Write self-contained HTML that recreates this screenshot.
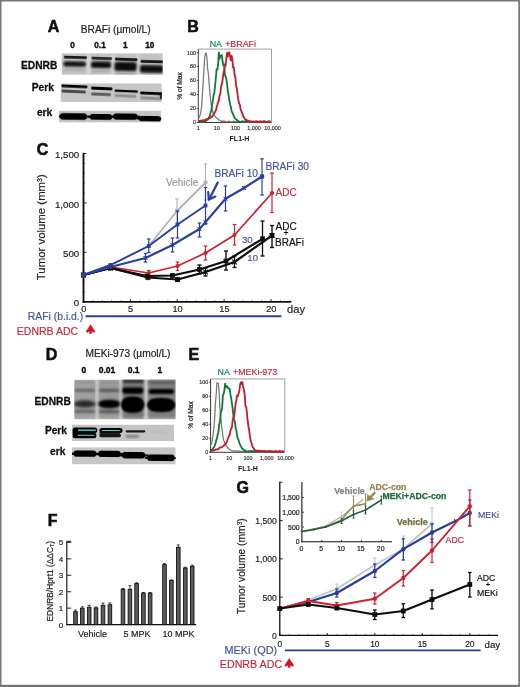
<!DOCTYPE html>
<html><head><meta charset="utf-8"><title>Figure</title>
<style>
html,body{margin:0;padding:0;background:#fff;}
body{width:520px;height:687px;overflow:hidden;font-family:"Liberation Sans", sans-serif;}
svg{display:block;font-family:"Liberation Sans", sans-serif;}
</style></head><body>
<svg width="520" height="687" viewBox="0 0 520 687">
<defs>
<filter id="b1" x="-10%" y="-30%" width="120%" height="160%"><feGaussianBlur stdDeviation="0.9"/></filter>
<filter id="b2" x="-10%" y="-30%" width="120%" height="160%"><feGaussianBlur stdDeviation="1.4"/></filter>
<filter id="b07" x="-10%" y="-40%" width="120%" height="180%"><feGaussianBlur stdDeviation="0.7"/></filter>
<filter id="b05" x="-10%" y="-30%" width="120%" height="160%"><feGaussianBlur stdDeviation="0.5"/></filter>
<filter id="soft" x="-5%" y="-5%" width="110%" height="110%"><feGaussianBlur stdDeviation="0.35"/></filter>
</defs>
<rect x="0" y="0" width="520" height="687" fill="#fff"/>
<g filter="url(#soft)"><rect x="-2" y="-2" width="524" height="3.5" fill="#767676"/><rect x="-2" y="-2" width="3.5" height="691" fill="#767676"/><rect x="518.3" y="-2" width="4" height="691" fill="#767676"/><rect x="-2" y="684.8" width="524" height="5" fill="#767676"/></g>
<g filter="url(#soft)">
<text x="47.80" y="32.40" font-size="16" fill="#0a0a0a" font-weight="bold" text-anchor="start"  stroke="#0a0a0a" stroke-width="0.55" stroke-linejoin="round">A</text>
<text x="80.80" y="33.40" font-size="10.2" fill="#222" font-weight="normal" text-anchor="start"  stroke="#222" stroke-width="0.18" stroke-linejoin="round">BRAFi (µmol/L)</text>
<text x="72.50" y="47.70" font-size="8.2" fill="#111" font-weight="bold" text-anchor="middle"  stroke="#111" stroke-width="0.4" stroke-linejoin="round">0</text>
<text x="100.00" y="47.70" font-size="8.2" fill="#111" font-weight="bold" text-anchor="middle"  stroke="#111" stroke-width="0.4" stroke-linejoin="round">0.1</text>
<text x="125.40" y="47.70" font-size="8.2" fill="#111" font-weight="bold" text-anchor="middle"  stroke="#111" stroke-width="0.4" stroke-linejoin="round">1</text>
<text x="149.70" y="47.70" font-size="8.2" fill="#111" font-weight="bold" text-anchor="middle"  stroke="#111" stroke-width="0.4" stroke-linejoin="round">10</text>
<text x="57.30" y="68.80" font-size="10.2" fill="#111" font-weight="bold" text-anchor="end"  stroke="#111" stroke-width="0.3" stroke-linejoin="round">EDNRB</text>
<text x="53.80" y="91.10" font-size="10.2" fill="#111" font-weight="bold" text-anchor="end"  stroke="#111" stroke-width="0.3" stroke-linejoin="round">Perk</text>
<text x="52.20" y="115.50" font-size="10.2" fill="#111" font-weight="bold" text-anchor="end"  stroke="#111" stroke-width="0.3" stroke-linejoin="round">erk</text>
<clipPath id="cA1"><rect x="61.5" y="53.2" width="101.30000000000001" height="21.599999999999994"/></clipPath>
<g clip-path="url(#cA1)">
<rect x="61.5" y="53.2" width="101.30000000000001" height="21.599999999999994" fill="#c2c2c2"/>
<rect x="86.5" y="51.2" width="4" height="25.599999999999994" fill="#d8d8d8" filter="url(#b2)"/>
<rect x="111.8" y="51.2" width="2.4" height="25.599999999999994" fill="#d8d8d8" filter="url(#b2)"/>
<rect x="137.10000000000002" y="51.2" width="2.4" height="25.599999999999994" fill="#d8d8d8" filter="url(#b2)"/>
<rect x="63.90" y="56.05" width="23.10" height="2.7" rx="1.35" fill="#080808" opacity="0.9" filter="url(#b07)" transform="rotate(1.5 75.45 57.40)"/>
<rect x="63.40" y="61.50" width="22.60" height="5.0" rx="2.5" fill="#080808" opacity="0.98" filter="url(#b1)" transform="rotate(1 74.70 64.00)"/>
<rect x="64.40" y="68.40" width="20.60" height="2.2" rx="1.1" fill="#777" opacity="0.45" filter="url(#b1)" transform="rotate(0 74.70 69.50)"/>
<rect x="91.50" y="56.95" width="20.50" height="2.7" rx="1.35" fill="#080808" opacity="0.85" filter="url(#b07)" transform="rotate(2 101.75 58.30)"/>
<rect x="91.00" y="61.40" width="20.00" height="6.6" rx="2.5" fill="#080808" opacity="0.98" filter="url(#b1)" transform="rotate(1 101.00 64.70)"/>
<rect x="92.00" y="69.90" width="18.00" height="2.2" rx="1.1" fill="#777" opacity="0.45" filter="url(#b1)" transform="rotate(0 101.00 71.00)"/>
<rect x="115.00" y="58.05" width="22.50" height="2.7" rx="1.35" fill="#080808" opacity="0.97" filter="url(#b07)" transform="rotate(2 126.25 59.40)"/>
<rect x="114.50" y="62.10" width="22.00" height="9.0" rx="2.5" fill="#080808" opacity="0.98" filter="url(#b1)" transform="rotate(1 125.50 66.60)"/>
<rect x="115.50" y="73.00" width="20.00" height="2.2" rx="1.1" fill="#777" opacity="0.45" filter="url(#b1)" transform="rotate(0 125.50 74.10)"/>
<rect x="140.50" y="60.25" width="23.00" height="2.7" rx="1.35" fill="#080808" opacity="0.97" filter="url(#b07)" transform="rotate(1.5 152.00 61.60)"/>
<rect x="140.00" y="65.20" width="23.50" height="7.6" rx="2.5" fill="#080808" opacity="0.98" filter="url(#b1)" transform="rotate(1 151.75 69.00)"/>
<rect x="141.00" y="74.70" width="21.50" height="2.2" rx="1.1" fill="#777" opacity="0.45" filter="url(#b1)" transform="rotate(0 151.75 75.80)"/>
</g>
<clipPath id="cA2"><rect x="60.6" y="83.3" width="101.20000000000002" height="18.700000000000003"/></clipPath>
<g clip-path="url(#cA2)">
<rect x="60.6" y="83.3" width="101.20000000000002" height="18.700000000000003" fill="#c6c6c6"/>
<rect x="61.40" y="84.90" width="26.10" height="2.8" rx="1.4" fill="#040404" opacity="1" filter="url(#b07)" transform="rotate(2.5 74.45 86.30)"/>
<rect x="61.40" y="89.90" width="24.60" height="3.0" rx="1.5" fill="#1c1c1c" opacity="0.72" filter="url(#b07)" transform="rotate(2.5 73.70 91.40)"/>
<rect x="91.00" y="87.10" width="21.50" height="2.8" rx="1.4" fill="#040404" opacity="1" filter="url(#b07)" transform="rotate(2.5 101.75 88.50)"/>
<rect x="91.00" y="92.70" width="20.00" height="3.0" rx="1.5" fill="#1c1c1c" opacity="0.62" filter="url(#b07)" transform="rotate(2.5 101.00 94.20)"/>
<rect x="114.50" y="90.05" width="23.50" height="2.3" rx="1.15" fill="#040404" opacity="1" filter="url(#b07)" transform="rotate(2.5 126.25 91.20)"/>
<rect x="114.50" y="94.50" width="22.00" height="3.0" rx="1.5" fill="#1c1c1c" opacity="0.32" filter="url(#b07)" transform="rotate(2.5 125.50 96.00)"/>
<rect x="140.00" y="92.10" width="23.50" height="2.5999999999999996" rx="1.2999999999999998" fill="#040404" opacity="1" filter="url(#b07)" transform="rotate(2.5 151.75 93.40)"/>
<rect x="140.00" y="96.70" width="23.50" height="3.0" rx="1.5" fill="#1c1c1c" opacity="0.32" filter="url(#b07)" transform="rotate(2.5 151.75 98.20)"/>
<rect x="159.80" y="92.30" width="3.20" height="7" rx="2.5" fill="#111" opacity="0.85" filter="url(#b05)" transform="rotate(0 161.40 95.80)"/>
</g>
<clipPath id="cA3"><rect x="58.8" y="110.6" width="102.39999999999999" height="12.0"/></clipPath>
<g clip-path="url(#cA3)">
<rect x="58.8" y="110.6" width="102.39999999999999" height="12.0" fill="#c4c4c4"/>
<rect x="59.80" y="113.30" width="27.20" height="6.4" rx="3" fill="#050505" opacity="1" filter="url(#b05)" transform="rotate(0.8 73.40 116.50)"/>
<rect x="57.80" y="115.40" width="31.70" height="2.2" rx="1.1" fill="#050505" opacity="1" filter="url(#b05)" transform="rotate(0.8 73.65 116.50)"/>
<rect x="89.80" y="114.00" width="22.20" height="5.8" rx="3" fill="#050505" opacity="1" filter="url(#b05)" transform="rotate(0.8 100.90 116.90)"/>
<rect x="87.80" y="115.80" width="26.70" height="2.2" rx="1.1" fill="#050505" opacity="1" filter="url(#b05)" transform="rotate(0.8 101.15 116.90)"/>
<rect x="113.30" y="113.40" width="24.20" height="6.4" rx="3" fill="#050505" opacity="1" filter="url(#b05)" transform="rotate(0.8 125.40 116.60)"/>
<rect x="111.30" y="115.50" width="28.70" height="2.2" rx="1.1" fill="#050505" opacity="1" filter="url(#b05)" transform="rotate(0.8 125.65 116.60)"/>
<rect x="138.80" y="116.10" width="22.10" height="5.2" rx="3" fill="#050505" opacity="1" filter="url(#b05)" transform="rotate(0.8 149.85 118.70)"/>
<rect x="136.80" y="117.60" width="26.60" height="2.2" rx="1.1" fill="#050505" opacity="1" filter="url(#b05)" transform="rotate(0.8 150.10 118.70)"/>
</g>
<text x="187.30" y="32.40" font-size="16" fill="#0a0a0a" font-weight="bold" text-anchor="start"  stroke="#0a0a0a" stroke-width="0.55" stroke-linejoin="round">B</text>
<line x1="198.30" y1="49.10" x2="198.30" y2="122.90" stroke="#222" stroke-width="0.9" />
<line x1="197.90" y1="122.50" x2="271.50" y2="122.50" stroke="#222" stroke-width="0.9" />
<line x1="198.30" y1="49.10" x2="271.50" y2="49.10" stroke="#777" stroke-width="0.7" />
<line x1="271.50" y1="49.10" x2="271.50" y2="122.50" stroke="#777" stroke-width="0.7" />
<line x1="196.70" y1="122.50" x2="198.30" y2="122.50" stroke="#222" stroke-width="0.7" />
<text x="195.90" y="124.40" font-size="5.4" fill="#333" font-weight="normal" text-anchor="end"  stroke="#333" stroke-width="0.18" stroke-linejoin="round">0</text>
<line x1="196.70" y1="108.52" x2="198.30" y2="108.52" stroke="#222" stroke-width="0.7" />
<text x="195.90" y="110.42" font-size="5.4" fill="#333" font-weight="normal" text-anchor="end"  stroke="#333" stroke-width="0.18" stroke-linejoin="round">20</text>
<line x1="196.70" y1="94.54" x2="198.30" y2="94.54" stroke="#222" stroke-width="0.7" />
<text x="195.90" y="96.44" font-size="5.4" fill="#333" font-weight="normal" text-anchor="end"  stroke="#333" stroke-width="0.18" stroke-linejoin="round">40</text>
<line x1="196.70" y1="80.56" x2="198.30" y2="80.56" stroke="#222" stroke-width="0.7" />
<text x="195.90" y="82.46" font-size="5.4" fill="#333" font-weight="normal" text-anchor="end"  stroke="#333" stroke-width="0.18" stroke-linejoin="round">60</text>
<line x1="196.70" y1="66.58" x2="198.30" y2="66.58" stroke="#222" stroke-width="0.7" />
<text x="195.90" y="68.48" font-size="5.4" fill="#333" font-weight="normal" text-anchor="end"  stroke="#333" stroke-width="0.18" stroke-linejoin="round">80</text>
<line x1="196.70" y1="52.60" x2="198.30" y2="52.60" stroke="#222" stroke-width="0.7" />
<text x="195.90" y="54.50" font-size="5.4" fill="#333" font-weight="normal" text-anchor="end"  stroke="#333" stroke-width="0.18" stroke-linejoin="round">100</text>
<text x="198.30" y="129.70" font-size="5.4" fill="#333" font-weight="normal" text-anchor="middle"  stroke="#333" stroke-width="0.18" stroke-linejoin="round">1</text>
<text x="216.85" y="129.70" font-size="5.4" fill="#333" font-weight="normal" text-anchor="middle"  stroke="#333" stroke-width="0.18" stroke-linejoin="round">10</text>
<text x="235.40" y="129.70" font-size="5.4" fill="#333" font-weight="normal" text-anchor="middle"  stroke="#333" stroke-width="0.18" stroke-linejoin="round">100</text>
<text x="253.95" y="129.70" font-size="5.4" fill="#333" font-weight="normal" text-anchor="middle"  stroke="#333" stroke-width="0.18" stroke-linejoin="round">1,000</text>
<text x="272.50" y="129.70" font-size="5.4" fill="#333" font-weight="normal" text-anchor="middle"  stroke="#333" stroke-width="0.18" stroke-linejoin="round">10,000</text>
<polyline points="198.60,118.37 199.35,116.88 200.10,114.98 200.85,111.87 201.60,106.58 202.35,95.19 203.10,83.46 203.85,71.29 204.60,58.78 205.35,53.62 206.10,53.07 206.85,56.50 207.60,68.90 208.35,73.25 209.10,83.58 209.85,92.17 210.60,100.37 211.35,105.17 212.10,108.68 212.85,112.59 213.60,113.17 214.35,115.23 215.10,116.48 215.85,117.41 216.60,117.83 217.35,118.49 218.10,118.99 218.85,120.27 219.60,119.97 220.35,120.64 221.10,121.24 221.85,121.13 222.60,121.65 223.35,120.87 224.10,121.12 224.85,121.68 225.60,121.20 226.35,121.80 227.10,121.84 227.85,121.62 228.60,121.10 229.35,121.12 230.10,121.92 230.85,121.96 231.60,121.68 232.35,121.89 233.10,121.32 233.85,121.25 234.60,121.74 235.35,121.64 236.10,121.58 236.85,121.57 237.60,121.67 238.35,121.51 239.10,121.87 239.85,121.68 240.60,122.12 241.35,121.65 242.10,121.63 242.85,122.09 243.60,121.76 244.35,121.86 245.10,121.54 245.85,122.11 246.60,121.36 247.35,121.79 248.10,121.90 248.85,121.91 249.60,121.68 250.35,121.86 251.10,122.15 251.85,121.56 252.60,122.00 253.35,121.98 254.10,121.82 254.85,122.10 255.60,121.91 256.35,121.82 257.10,122.05 257.85,121.64 258.60,121.81 259.35,122.09 260.10,122.03 260.85,121.49 261.60,121.96 262.35,121.66 263.10,121.90 263.85,121.95 264.60,121.97 265.35,121.85 266.10,121.85 266.85,122.07 267.60,121.41 268.35,121.37 269.10,121.40 269.85,122.01 270.60,121.50" fill="none" stroke="#7c7c7c" stroke-width="1.3" stroke-linejoin="round" />
<polyline points="198.60,121.76 199.35,121.91 200.10,122.13 200.85,121.94 201.60,122.13 202.35,121.55 203.10,121.33 203.85,121.51 204.60,121.28 205.35,121.44 206.10,120.88 206.85,120.09 207.60,119.82 208.35,118.53 209.10,117.08 209.85,115.81 210.60,112.62 211.35,110.18 212.10,104.61 212.85,100.70 213.60,95.22 214.35,92.64 215.10,85.26 215.85,78.00 216.60,69.32 217.35,69.69 218.10,64.47 218.85,52.30 219.60,58.81 220.35,55.79 221.10,55.72 221.85,55.07 222.60,61.73 223.35,65.45 224.10,64.19 224.85,74.36 225.60,76.49 226.35,79.04 227.10,84.09 227.85,91.35 228.60,95.45 229.35,100.05 230.10,104.15 230.85,107.01 231.60,111.07 232.35,112.50 233.10,114.40 233.85,115.88 234.60,117.98 235.35,118.76 236.10,119.27 236.85,120.05 237.60,120.62 238.35,121.02 239.10,121.62 239.85,121.81 240.60,121.85 241.35,121.77 242.10,121.27 242.85,121.28 243.60,121.29 244.35,121.51 245.10,121.99 245.85,121.60 246.60,121.96 247.35,121.28 248.10,121.81 248.85,121.39 249.60,121.95 250.35,121.59 251.10,121.78 251.85,121.79 252.60,121.78 253.35,121.72 254.10,121.79 254.85,122.00 255.60,121.51 256.35,121.72 257.10,121.62 257.85,122.03 258.60,121.54 259.35,121.73 260.10,121.56 260.85,121.95 261.60,121.68 262.35,121.98 263.10,121.38 263.85,121.59 264.60,121.46 265.35,121.96 266.10,122.16 266.85,121.86 267.60,121.88 268.35,121.54 269.10,121.36 269.85,121.69 270.60,121.49" fill="none" stroke="#0f7a3a" stroke-width="1.8" stroke-linejoin="round" />
<polyline points="198.60,121.05 199.35,120.86 200.10,120.97 200.85,120.40 201.60,120.93 202.35,120.43 203.10,119.98 203.85,120.36 204.60,120.33 205.35,119.76 206.10,119.15 206.85,119.14 207.60,119.21 208.35,118.98 209.10,118.32 209.85,118.20 210.60,117.25 211.35,117.39 212.10,116.24 212.85,115.57 213.60,113.90 214.35,113.41 215.10,111.95 215.85,110.44 216.60,107.47 217.35,104.67 218.10,101.97 218.85,100.51 219.60,95.64 220.35,93.63 221.10,86.09 221.85,84.48 222.60,80.08 223.35,73.65 224.10,70.74 224.85,65.43 225.60,65.69 226.35,58.45 227.10,52.81 227.85,56.65 228.60,52.81 229.35,52.30 230.10,56.62 230.85,60.29 231.60,55.78 232.35,59.45 233.10,67.72 233.85,67.17 234.60,74.76 235.35,77.76 236.10,85.45 236.85,88.73 237.60,94.13 238.35,99.71 239.10,103.55 239.85,104.53 240.60,109.45 241.35,111.11 242.10,112.77 242.85,115.46 243.60,117.12 244.35,117.92 245.10,119.30 245.85,120.01 246.60,119.88 247.35,120.73 248.10,120.95 248.85,120.84 249.60,121.58 250.35,121.45 251.10,121.29 251.85,121.30 252.60,121.53 253.35,121.58 254.10,121.55 254.85,121.60 255.60,121.64 256.35,121.23 257.10,121.92 257.85,121.53 258.60,121.78 259.35,122.02 260.10,121.31 260.85,121.37 261.60,121.99 262.35,121.61 263.10,121.52 263.85,121.84 264.60,121.35 265.35,121.77 266.10,121.73 266.85,122.12 267.60,121.99 268.35,121.74 269.10,121.71 269.85,121.62 270.60,121.78" fill="none" stroke="#c41c2a" stroke-width="1.8" stroke-linejoin="round" />
<text x="209.70" y="47.00" font-size="8.9" fill="#16874a" font-weight="normal" text-anchor="start"  stroke="#16874a" stroke-width="0.18" stroke-linejoin="round">NA</text>
<text x="225.20" y="47.00" font-size="8.9" fill="#c8283c" font-weight="normal" text-anchor="start"  stroke="#c8283c" stroke-width="0.18" stroke-linejoin="round">+BRAFi</text>
<text transform="translate(181.60,86.00) rotate(-90)" font-size="6.6" fill="#222" stroke="#222" stroke-width="0.18" font-weight="normal" text-anchor="middle">% of Max</text>
<text x="239.50" y="141.00" font-size="7" fill="#222" font-weight="bold" text-anchor="middle" >FL1-H</text>
</g>
<g filter="url(#soft)">
<text x="36.80" y="154.70" font-size="16" fill="#0a0a0a" font-weight="bold" text-anchor="start"  stroke="#0a0a0a" stroke-width="0.55" stroke-linejoin="round">C</text>
<line x1="83.50" y1="152.80" x2="83.50" y2="302.60" stroke="#111" stroke-width="1.8" />
<line x1="82.60" y1="301.80" x2="291.30" y2="301.80" stroke="#111" stroke-width="1.8" />
<line x1="83.50" y1="301.70" x2="86.50" y2="301.70" stroke="#111" stroke-width="0.9" />
<line x1="83.50" y1="291.82" x2="84.90" y2="291.82" stroke="#111" stroke-width="0.7" />
<line x1="83.50" y1="281.94" x2="84.90" y2="281.94" stroke="#111" stroke-width="0.7" />
<line x1="83.50" y1="272.06" x2="84.90" y2="272.06" stroke="#111" stroke-width="0.7" />
<line x1="83.50" y1="262.18" x2="84.90" y2="262.18" stroke="#111" stroke-width="0.7" />
<line x1="83.50" y1="252.30" x2="86.50" y2="252.30" stroke="#111" stroke-width="0.9" />
<line x1="83.50" y1="242.42" x2="84.90" y2="242.42" stroke="#111" stroke-width="0.7" />
<line x1="83.50" y1="232.54" x2="84.90" y2="232.54" stroke="#111" stroke-width="0.7" />
<line x1="83.50" y1="222.66" x2="84.90" y2="222.66" stroke="#111" stroke-width="0.7" />
<line x1="83.50" y1="212.78" x2="84.90" y2="212.78" stroke="#111" stroke-width="0.7" />
<line x1="83.50" y1="202.90" x2="86.50" y2="202.90" stroke="#111" stroke-width="0.9" />
<line x1="83.50" y1="193.02" x2="84.90" y2="193.02" stroke="#111" stroke-width="0.7" />
<line x1="83.50" y1="183.14" x2="84.90" y2="183.14" stroke="#111" stroke-width="0.7" />
<line x1="83.50" y1="173.26" x2="84.90" y2="173.26" stroke="#111" stroke-width="0.7" />
<line x1="83.50" y1="163.38" x2="84.90" y2="163.38" stroke="#111" stroke-width="0.7" />
<line x1="83.50" y1="153.50" x2="86.50" y2="153.50" stroke="#111" stroke-width="0.9" />
<line x1="83.50" y1="301.70" x2="83.50" y2="299.10" stroke="#111" stroke-width="0.9" />
<line x1="92.88" y1="301.70" x2="92.88" y2="300.40" stroke="#111" stroke-width="0.7" />
<line x1="102.25" y1="301.70" x2="102.25" y2="300.40" stroke="#111" stroke-width="0.7" />
<line x1="111.62" y1="301.70" x2="111.62" y2="300.40" stroke="#111" stroke-width="0.7" />
<line x1="121.00" y1="301.70" x2="121.00" y2="300.40" stroke="#111" stroke-width="0.7" />
<line x1="130.38" y1="301.70" x2="130.38" y2="299.10" stroke="#111" stroke-width="0.9" />
<line x1="139.75" y1="301.70" x2="139.75" y2="300.40" stroke="#111" stroke-width="0.7" />
<line x1="149.12" y1="301.70" x2="149.12" y2="300.40" stroke="#111" stroke-width="0.7" />
<line x1="158.50" y1="301.70" x2="158.50" y2="300.40" stroke="#111" stroke-width="0.7" />
<line x1="167.88" y1="301.70" x2="167.88" y2="300.40" stroke="#111" stroke-width="0.7" />
<line x1="177.25" y1="301.70" x2="177.25" y2="299.10" stroke="#111" stroke-width="0.9" />
<line x1="186.62" y1="301.70" x2="186.62" y2="300.40" stroke="#111" stroke-width="0.7" />
<line x1="196.00" y1="301.70" x2="196.00" y2="300.40" stroke="#111" stroke-width="0.7" />
<line x1="205.38" y1="301.70" x2="205.38" y2="300.40" stroke="#111" stroke-width="0.7" />
<line x1="214.75" y1="301.70" x2="214.75" y2="300.40" stroke="#111" stroke-width="0.7" />
<line x1="224.12" y1="301.70" x2="224.12" y2="299.10" stroke="#111" stroke-width="0.9" />
<line x1="233.50" y1="301.70" x2="233.50" y2="300.40" stroke="#111" stroke-width="0.7" />
<line x1="242.88" y1="301.70" x2="242.88" y2="300.40" stroke="#111" stroke-width="0.7" />
<line x1="252.25" y1="301.70" x2="252.25" y2="300.40" stroke="#111" stroke-width="0.7" />
<line x1="261.62" y1="301.70" x2="261.62" y2="300.40" stroke="#111" stroke-width="0.7" />
<line x1="271.00" y1="301.70" x2="271.00" y2="299.10" stroke="#111" stroke-width="0.9" />
<line x1="280.38" y1="301.70" x2="280.38" y2="300.40" stroke="#111" stroke-width="0.7" />
<line x1="289.75" y1="301.70" x2="289.75" y2="300.40" stroke="#111" stroke-width="0.7" />
<text x="79.20" y="158.10" font-size="9.7" fill="#222" font-weight="normal" text-anchor="end"  stroke="#222" stroke-width="0.18" stroke-linejoin="round">1,500</text>
<text x="79.20" y="207.50" font-size="9.7" fill="#222" font-weight="normal" text-anchor="end"  stroke="#222" stroke-width="0.18" stroke-linejoin="round">1,000</text>
<text x="79.20" y="256.90" font-size="9.7" fill="#222" font-weight="normal" text-anchor="end"  stroke="#222" stroke-width="0.18" stroke-linejoin="round">500</text>
<text x="79.20" y="306.10" font-size="9.7" fill="#222" font-weight="normal" text-anchor="end"  stroke="#222" stroke-width="0.18" stroke-linejoin="round">0</text>
<text x="83.80" y="312.20" font-size="9.2" fill="#222" font-weight="normal" text-anchor="middle"  stroke="#222" stroke-width="0.18" stroke-linejoin="round">0</text>
<text x="130.68" y="312.20" font-size="9.2" fill="#222" font-weight="normal" text-anchor="middle"  stroke="#222" stroke-width="0.18" stroke-linejoin="round">5</text>
<text x="177.55" y="312.20" font-size="9.2" fill="#222" font-weight="normal" text-anchor="middle"  stroke="#222" stroke-width="0.18" stroke-linejoin="round">10</text>
<text x="224.43" y="312.20" font-size="9.2" fill="#222" font-weight="normal" text-anchor="middle"  stroke="#222" stroke-width="0.18" stroke-linejoin="round">15</text>
<text x="271.30" y="312.20" font-size="9.2" fill="#222" font-weight="normal" text-anchor="middle"  stroke="#222" stroke-width="0.18" stroke-linejoin="round">20</text>
<text x="287.00" y="313.20" font-size="11.2" fill="#222" font-weight="normal" text-anchor="start"  stroke="#222" stroke-width="0.18" stroke-linejoin="round">day</text>
<text transform="translate(45.30,227.20) rotate(-90)" font-size="11.4" fill="#222" stroke="#222" stroke-width="0.18" font-weight="normal" text-anchor="middle">Tumor volume (mm<tspan font-size="7" dy="-3.6">3</tspan><tspan dy="3.6">)</tspan></text>
<line x1="177.00" y1="199.00" x2="177.00" y2="223.00" stroke="#b2b2b2" stroke-width="1.1" />
<line x1="175.20" y1="199.00" x2="178.80" y2="199.00" stroke="#b2b2b2" stroke-width="1.1" />
<line x1="175.20" y1="223.00" x2="178.80" y2="223.00" stroke="#b2b2b2" stroke-width="1.1" />
<line x1="205.50" y1="164.00" x2="205.50" y2="200.00" stroke="#b2b2b2" stroke-width="1.1" />
<line x1="203.70" y1="164.00" x2="207.30" y2="164.00" stroke="#b2b2b2" stroke-width="1.1" />
<line x1="203.70" y1="200.00" x2="207.30" y2="200.00" stroke="#b2b2b2" stroke-width="1.1" />
<polyline points="83.50,275.00 110.50,265.50 148.75,246.00 177.00,211.00 205.50,182.50" fill="none" stroke="#b2b2b2" stroke-width="1.8" stroke-linejoin="round" />
<rect x="81.60" y="273.10" width="3.8" height="3.8" fill="#b2b2b2"/>
<rect x="108.60" y="263.60" width="3.8" height="3.8" fill="#b2b2b2"/>
<rect x="146.85" y="244.10" width="3.8" height="3.8" fill="#b2b2b2"/>
<rect x="175.10" y="209.10" width="3.8" height="3.8" fill="#b2b2b2"/>
<rect x="203.60" y="180.60" width="3.8" height="3.8" fill="#b2b2b2"/>
<line x1="148.75" y1="270.50" x2="148.75" y2="276.00" stroke="#d0202e" stroke-width="1.2" />
<line x1="146.95" y1="270.50" x2="150.55" y2="270.50" stroke="#d0202e" stroke-width="1.2" />
<line x1="146.95" y1="276.00" x2="150.55" y2="276.00" stroke="#d0202e" stroke-width="1.2" />
<line x1="177.50" y1="262.00" x2="177.50" y2="270.50" stroke="#d0202e" stroke-width="1.2" />
<line x1="175.70" y1="262.00" x2="179.30" y2="262.00" stroke="#d0202e" stroke-width="1.2" />
<line x1="175.70" y1="270.50" x2="179.30" y2="270.50" stroke="#d0202e" stroke-width="1.2" />
<line x1="205.50" y1="246.00" x2="205.50" y2="260.00" stroke="#d0202e" stroke-width="1.2" />
<line x1="203.70" y1="246.00" x2="207.30" y2="246.00" stroke="#d0202e" stroke-width="1.2" />
<line x1="203.70" y1="260.00" x2="207.30" y2="260.00" stroke="#d0202e" stroke-width="1.2" />
<line x1="234.50" y1="224.50" x2="234.50" y2="245.00" stroke="#d0202e" stroke-width="1.2" />
<line x1="232.70" y1="224.50" x2="236.30" y2="224.50" stroke="#d0202e" stroke-width="1.2" />
<line x1="232.70" y1="245.00" x2="236.30" y2="245.00" stroke="#d0202e" stroke-width="1.2" />
<line x1="272.00" y1="173.00" x2="272.00" y2="212.50" stroke="#d0202e" stroke-width="1.2" />
<line x1="270.20" y1="173.00" x2="273.80" y2="173.00" stroke="#d0202e" stroke-width="1.2" />
<line x1="270.20" y1="212.50" x2="273.80" y2="212.50" stroke="#d0202e" stroke-width="1.2" />
<polyline points="83.50,275.00 110.50,267.00 148.75,273.00 177.50,266.00 205.50,253.00 234.50,235.00 272.00,193.00" fill="none" stroke="#d0202e" stroke-width="1.7" stroke-linejoin="round" />
<circle cx="83.50" cy="275.00" r="2.1" fill="#d0202e"/>
<circle cx="110.50" cy="267.00" r="2.1" fill="#d0202e"/>
<circle cx="148.75" cy="273.00" r="2.1" fill="#d0202e"/>
<circle cx="177.50" cy="266.00" r="2.1" fill="#d0202e"/>
<circle cx="205.50" cy="253.00" r="2.1" fill="#d0202e"/>
<circle cx="234.50" cy="235.00" r="2.1" fill="#d0202e"/>
<circle cx="272.00" cy="193.00" r="2.1" fill="#d0202e"/>
<line x1="199.50" y1="265.00" x2="199.50" y2="274.00" stroke="#0a0a0a" stroke-width="1.3" />
<line x1="197.50" y1="265.00" x2="201.50" y2="265.00" stroke="#0a0a0a" stroke-width="1.3" />
<line x1="197.50" y1="274.00" x2="201.50" y2="274.00" stroke="#0a0a0a" stroke-width="1.3" />
<line x1="226.00" y1="251.00" x2="226.00" y2="270.00" stroke="#0a0a0a" stroke-width="1.3" />
<line x1="224.00" y1="251.00" x2="228.00" y2="251.00" stroke="#0a0a0a" stroke-width="1.3" />
<line x1="224.00" y1="270.00" x2="228.00" y2="270.00" stroke="#0a0a0a" stroke-width="1.3" />
<line x1="262.50" y1="221.00" x2="262.50" y2="256.00" stroke="#0a0a0a" stroke-width="1.3" />
<line x1="260.50" y1="221.00" x2="264.50" y2="221.00" stroke="#0a0a0a" stroke-width="1.3" />
<line x1="260.50" y1="256.00" x2="264.50" y2="256.00" stroke="#0a0a0a" stroke-width="1.3" />
<polyline points="83.50,275.00 110.50,268.00 147.00,276.00 172.50,275.50 199.50,269.50 226.00,261.00 262.50,238.80" fill="none" stroke="#0a0a0a" stroke-width="2.15" stroke-linejoin="round" />
<rect x="81.10" y="272.60" width="4.8" height="4.8" fill="#0a0a0a"/>
<rect x="108.10" y="265.60" width="4.8" height="4.8" fill="#0a0a0a"/>
<rect x="144.60" y="273.60" width="4.8" height="4.8" fill="#0a0a0a"/>
<rect x="170.10" y="273.10" width="4.8" height="4.8" fill="#0a0a0a"/>
<rect x="197.10" y="267.10" width="4.8" height="4.8" fill="#0a0a0a"/>
<rect x="223.60" y="258.60" width="4.8" height="4.8" fill="#0a0a0a"/>
<rect x="260.10" y="236.40" width="4.8" height="4.8" fill="#0a0a0a"/>
<line x1="205.50" y1="268.00" x2="205.50" y2="276.00" stroke="#0a0a0a" stroke-width="1.3" />
<line x1="203.50" y1="268.00" x2="207.50" y2="268.00" stroke="#0a0a0a" stroke-width="1.3" />
<line x1="203.50" y1="276.00" x2="207.50" y2="276.00" stroke="#0a0a0a" stroke-width="1.3" />
<line x1="234.50" y1="256.00" x2="234.50" y2="267.50" stroke="#0a0a0a" stroke-width="1.3" />
<line x1="232.50" y1="256.00" x2="236.50" y2="256.00" stroke="#0a0a0a" stroke-width="1.3" />
<line x1="232.50" y1="267.50" x2="236.50" y2="267.50" stroke="#0a0a0a" stroke-width="1.3" />
<line x1="272.00" y1="225.50" x2="272.00" y2="247.50" stroke="#0a0a0a" stroke-width="1.3" />
<line x1="270.00" y1="225.50" x2="274.00" y2="225.50" stroke="#0a0a0a" stroke-width="1.3" />
<line x1="270.00" y1="247.50" x2="274.00" y2="247.50" stroke="#0a0a0a" stroke-width="1.3" />
<polyline points="83.50,275.00 110.50,268.00 148.00,277.50 177.50,279.50 205.50,272.00 234.50,262.00 272.00,235.50" fill="none" stroke="#0a0a0a" stroke-width="2.15" stroke-linejoin="round" />
<line x1="81.20" y1="272.70" x2="85.80" y2="277.30" stroke="#0a0a0a" stroke-width="1.1" />
<line x1="81.20" y1="277.30" x2="85.80" y2="272.70" stroke="#0a0a0a" stroke-width="1.1" />
<line x1="83.50" y1="272.30" x2="83.50" y2="277.70" stroke="#0a0a0a" stroke-width="1.0" />
<line x1="108.20" y1="265.70" x2="112.80" y2="270.30" stroke="#0a0a0a" stroke-width="1.1" />
<line x1="108.20" y1="270.30" x2="112.80" y2="265.70" stroke="#0a0a0a" stroke-width="1.1" />
<line x1="110.50" y1="265.30" x2="110.50" y2="270.70" stroke="#0a0a0a" stroke-width="1.0" />
<line x1="145.70" y1="275.20" x2="150.30" y2="279.80" stroke="#0a0a0a" stroke-width="1.1" />
<line x1="145.70" y1="279.80" x2="150.30" y2="275.20" stroke="#0a0a0a" stroke-width="1.1" />
<line x1="148.00" y1="274.80" x2="148.00" y2="280.20" stroke="#0a0a0a" stroke-width="1.0" />
<line x1="175.20" y1="277.20" x2="179.80" y2="281.80" stroke="#0a0a0a" stroke-width="1.1" />
<line x1="175.20" y1="281.80" x2="179.80" y2="277.20" stroke="#0a0a0a" stroke-width="1.1" />
<line x1="177.50" y1="276.80" x2="177.50" y2="282.20" stroke="#0a0a0a" stroke-width="1.0" />
<line x1="203.20" y1="269.70" x2="207.80" y2="274.30" stroke="#0a0a0a" stroke-width="1.1" />
<line x1="203.20" y1="274.30" x2="207.80" y2="269.70" stroke="#0a0a0a" stroke-width="1.1" />
<line x1="205.50" y1="269.30" x2="205.50" y2="274.70" stroke="#0a0a0a" stroke-width="1.0" />
<line x1="232.20" y1="259.70" x2="236.80" y2="264.30" stroke="#0a0a0a" stroke-width="1.1" />
<line x1="232.20" y1="264.30" x2="236.80" y2="259.70" stroke="#0a0a0a" stroke-width="1.1" />
<line x1="234.50" y1="259.30" x2="234.50" y2="264.70" stroke="#0a0a0a" stroke-width="1.0" />
<line x1="269.70" y1="233.20" x2="274.30" y2="237.80" stroke="#0a0a0a" stroke-width="1.1" />
<line x1="269.70" y1="237.80" x2="274.30" y2="233.20" stroke="#0a0a0a" stroke-width="1.1" />
<line x1="272.00" y1="232.80" x2="272.00" y2="238.20" stroke="#0a0a0a" stroke-width="1.0" />
<rect x="269.60" y="233.10" width="4.8" height="4.8" fill="#0a0a0a"/>
<circle cx="177.50" cy="279.50" r="2.6" fill="#0a0a0a"/>
<circle cx="148.00" cy="277.50" r="2.4" fill="#0a0a0a"/>
<line x1="148.75" y1="239.00" x2="148.75" y2="252.50" stroke="#2c40a0" stroke-width="1.2" />
<line x1="146.95" y1="239.00" x2="150.55" y2="239.00" stroke="#2c40a0" stroke-width="1.2" />
<line x1="146.95" y1="252.50" x2="150.55" y2="252.50" stroke="#2c40a0" stroke-width="1.2" />
<line x1="177.50" y1="211.00" x2="177.50" y2="238.00" stroke="#2c40a0" stroke-width="1.2" />
<line x1="175.70" y1="211.00" x2="179.30" y2="211.00" stroke="#2c40a0" stroke-width="1.2" />
<line x1="175.70" y1="238.00" x2="179.30" y2="238.00" stroke="#2c40a0" stroke-width="1.2" />
<line x1="205.50" y1="187.50" x2="205.50" y2="224.00" stroke="#2c40a0" stroke-width="1.2" />
<line x1="203.70" y1="187.50" x2="207.30" y2="187.50" stroke="#2c40a0" stroke-width="1.2" />
<line x1="203.70" y1="224.00" x2="207.30" y2="224.00" stroke="#2c40a0" stroke-width="1.2" />
<polyline points="83.50,275.00 110.50,265.00 148.75,246.00 177.50,224.50 205.50,205.50" fill="none" stroke="#2c40a0" stroke-width="1.9" stroke-linejoin="round" />
<rect x="81.60" y="273.10" width="3.8" height="3.8" fill="#2c40a0"/>
<rect x="108.60" y="263.10" width="3.8" height="3.8" fill="#2c40a0"/>
<rect x="146.85" y="244.10" width="3.8" height="3.8" fill="#2c40a0"/>
<rect x="175.60" y="222.60" width="3.8" height="3.8" fill="#2c40a0"/>
<rect x="203.60" y="203.60" width="3.8" height="3.8" fill="#2c40a0"/>
<line x1="145.50" y1="253.50" x2="145.50" y2="262.00" stroke="#2c40a0" stroke-width="1.2" />
<line x1="143.70" y1="253.50" x2="147.30" y2="253.50" stroke="#2c40a0" stroke-width="1.2" />
<line x1="143.70" y1="262.00" x2="147.30" y2="262.00" stroke="#2c40a0" stroke-width="1.2" />
<line x1="172.50" y1="238.00" x2="172.50" y2="252.00" stroke="#2c40a0" stroke-width="1.2" />
<line x1="170.70" y1="238.00" x2="174.30" y2="238.00" stroke="#2c40a0" stroke-width="1.2" />
<line x1="170.70" y1="252.00" x2="174.30" y2="252.00" stroke="#2c40a0" stroke-width="1.2" />
<line x1="199.50" y1="223.00" x2="199.50" y2="237.00" stroke="#2c40a0" stroke-width="1.2" />
<line x1="197.70" y1="223.00" x2="201.30" y2="223.00" stroke="#2c40a0" stroke-width="1.2" />
<line x1="197.70" y1="237.00" x2="201.30" y2="237.00" stroke="#2c40a0" stroke-width="1.2" />
<line x1="225.50" y1="186.00" x2="225.50" y2="211.00" stroke="#2c40a0" stroke-width="1.2" />
<line x1="223.70" y1="186.00" x2="227.30" y2="186.00" stroke="#2c40a0" stroke-width="1.2" />
<line x1="223.70" y1="211.00" x2="227.30" y2="211.00" stroke="#2c40a0" stroke-width="1.2" />
<line x1="262.00" y1="158.80" x2="262.00" y2="195.00" stroke="#2c40a0" stroke-width="1.2" />
<line x1="260.20" y1="158.80" x2="263.80" y2="158.80" stroke="#2c40a0" stroke-width="1.2" />
<line x1="260.20" y1="195.00" x2="263.80" y2="195.00" stroke="#2c40a0" stroke-width="1.2" />
<polyline points="83.50,275.00 110.50,267.00 145.50,258.00 172.50,245.00 199.50,229.00 205.40,222.30 225.50,198.80 244.00,188.00 262.00,176.50" fill="none" stroke="#2c40a0" stroke-width="2.15" stroke-linejoin="round" />
<line x1="81.60" y1="273.10" x2="85.40" y2="276.90" stroke="#2c40a0" stroke-width="1.1" />
<line x1="81.60" y1="276.90" x2="85.40" y2="273.10" stroke="#2c40a0" stroke-width="1.1" />
<line x1="83.50" y1="272.70" x2="83.50" y2="277.30" stroke="#2c40a0" stroke-width="1.0" />
<line x1="108.60" y1="265.10" x2="112.40" y2="268.90" stroke="#2c40a0" stroke-width="1.1" />
<line x1="108.60" y1="268.90" x2="112.40" y2="265.10" stroke="#2c40a0" stroke-width="1.1" />
<line x1="110.50" y1="264.70" x2="110.50" y2="269.30" stroke="#2c40a0" stroke-width="1.0" />
<line x1="143.60" y1="256.10" x2="147.40" y2="259.90" stroke="#2c40a0" stroke-width="1.1" />
<line x1="143.60" y1="259.90" x2="147.40" y2="256.10" stroke="#2c40a0" stroke-width="1.1" />
<line x1="145.50" y1="255.70" x2="145.50" y2="260.30" stroke="#2c40a0" stroke-width="1.0" />
<line x1="170.60" y1="243.10" x2="174.40" y2="246.90" stroke="#2c40a0" stroke-width="1.1" />
<line x1="170.60" y1="246.90" x2="174.40" y2="243.10" stroke="#2c40a0" stroke-width="1.1" />
<line x1="172.50" y1="242.70" x2="172.50" y2="247.30" stroke="#2c40a0" stroke-width="1.0" />
<line x1="197.60" y1="227.10" x2="201.40" y2="230.90" stroke="#2c40a0" stroke-width="1.1" />
<line x1="197.60" y1="230.90" x2="201.40" y2="227.10" stroke="#2c40a0" stroke-width="1.1" />
<line x1="199.50" y1="226.70" x2="199.50" y2="231.30" stroke="#2c40a0" stroke-width="1.0" />
<line x1="203.50" y1="220.40" x2="207.30" y2="224.20" stroke="#2c40a0" stroke-width="1.1" />
<line x1="203.50" y1="224.20" x2="207.30" y2="220.40" stroke="#2c40a0" stroke-width="1.1" />
<line x1="205.40" y1="220.00" x2="205.40" y2="224.60" stroke="#2c40a0" stroke-width="1.0" />
<line x1="223.60" y1="196.90" x2="227.40" y2="200.70" stroke="#2c40a0" stroke-width="1.1" />
<line x1="223.60" y1="200.70" x2="227.40" y2="196.90" stroke="#2c40a0" stroke-width="1.1" />
<line x1="225.50" y1="196.50" x2="225.50" y2="201.10" stroke="#2c40a0" stroke-width="1.0" />
<line x1="242.10" y1="186.10" x2="245.90" y2="189.90" stroke="#2c40a0" stroke-width="1.1" />
<line x1="242.10" y1="189.90" x2="245.90" y2="186.10" stroke="#2c40a0" stroke-width="1.1" />
<line x1="244.00" y1="185.70" x2="244.00" y2="190.30" stroke="#2c40a0" stroke-width="1.0" />
<line x1="260.10" y1="174.60" x2="263.90" y2="178.40" stroke="#2c40a0" stroke-width="1.1" />
<line x1="260.10" y1="178.40" x2="263.90" y2="174.60" stroke="#2c40a0" stroke-width="1.1" />
<line x1="262.00" y1="174.20" x2="262.00" y2="178.80" stroke="#2c40a0" stroke-width="1.0" />
<circle cx="83.50" cy="275.00" r="2.0" fill="#2c40a0"/>
<circle cx="110.50" cy="266.00" r="2.3" fill="#2c40a0"/>
<text x="166.00" y="185.60" font-size="10" fill="#9a9a9a" font-weight="normal" text-anchor="start"  stroke="#9a9a9a" stroke-width="0.18" stroke-linejoin="round">Vehicle</text>
<text x="214.40" y="177.20" font-size="10.2" fill="#44549a" font-weight="normal" text-anchor="start"  stroke="#44549a" stroke-width="0.18" stroke-linejoin="round">BRAFi 10</text>
<text x="265.40" y="170.20" font-size="10.2" fill="#44549a" font-weight="normal" text-anchor="start"  stroke="#44549a" stroke-width="0.18" stroke-linejoin="round">BRAFi 30</text>
<circle cx="262.00" cy="176.50" r="2.3" fill="#2c40a0"/>
<text x="275.50" y="195.60" font-size="10" fill="#c62c3c" font-weight="normal" text-anchor="start"  stroke="#c62c3c" stroke-width="0.18" stroke-linejoin="round">ADC</text>
<text x="275.50" y="229.70" font-size="10" fill="#111" font-weight="normal" text-anchor="start"  stroke="#111" stroke-width="0.18" stroke-linejoin="round">ADC</text>
<text x="286.00" y="236.00" font-size="8.5" fill="#111" font-weight="bold" text-anchor="middle" >+</text>
<text x="275.00" y="245.70" font-size="10" fill="#111" font-weight="normal" text-anchor="start"  stroke="#111" stroke-width="0.18" stroke-linejoin="round">BRAFi</text>
<text x="242.00" y="242.60" font-size="9.6" fill="#44549a" font-weight="normal" text-anchor="start"  stroke="#44549a" stroke-width="0.18" stroke-linejoin="round">30</text>
<text x="247.30" y="261.20" font-size="9.6" fill="#44549a" font-weight="normal" text-anchor="start"  stroke="#44549a" stroke-width="0.18" stroke-linejoin="round">10</text>
<line x1="217.70" y1="182.60" x2="209.60" y2="198.40" stroke="#2c40a0" stroke-width="2.3" stroke-linecap="round"/>
<polyline points="208.30,192.20 208.70,199.80 215.40,196.60" fill="none" stroke="#2c40a0" stroke-width="2.2" stroke-linejoin="round" stroke-linecap="round"/>
<text x="27.80" y="319.60" font-size="10.4" fill="#44549a" font-weight="normal" text-anchor="start"  stroke="#44549a" stroke-width="0.18" stroke-linejoin="round">RAFi (b.i.d.)</text>
<line x1="85.50" y1="316.30" x2="281.30" y2="316.30" stroke="#2c40a0" stroke-width="1.9" />
<text x="16.80" y="335.00" font-size="10.5" fill="#c62c3c" font-weight="normal" text-anchor="start"  stroke="#c62c3c" stroke-width="0.18" stroke-linejoin="round">EDNRB ADC</text>
<path d="M90.60,324.70 L95.00,331.40 L94.00,332.50 L91.80,331.10 L91.60,333.50 L89.60,333.50 L89.40,331.10 L87.20,332.50 L86.20,331.40 Z" fill="#d4141e" stroke="#d4141e" stroke-width="0.5" stroke-linejoin="round"/>
</g>
<g filter="url(#soft)">
<text x="45.80" y="360.20" font-size="16" fill="#0a0a0a" font-weight="bold" text-anchor="start"  stroke="#0a0a0a" stroke-width="0.55" stroke-linejoin="round">D</text>
<text x="85.40" y="357.20" font-size="10.2" fill="#222" font-weight="normal" text-anchor="start"  stroke="#222" stroke-width="0.18" stroke-linejoin="round">MEKi-973 (µmol/L)</text>
<text x="83.80" y="373.20" font-size="8.5" fill="#111" font-weight="bold" text-anchor="middle"  stroke="#111" stroke-width="0.4" stroke-linejoin="round">0</text>
<text x="107.00" y="373.20" font-size="8.5" fill="#111" font-weight="bold" text-anchor="middle"  stroke="#111" stroke-width="0.4" stroke-linejoin="round">0.01</text>
<text x="133.70" y="373.20" font-size="8.5" fill="#111" font-weight="bold" text-anchor="middle"  stroke="#111" stroke-width="0.4" stroke-linejoin="round">0.1</text>
<text x="159.80" y="373.20" font-size="8.5" fill="#111" font-weight="bold" text-anchor="middle"  stroke="#111" stroke-width="0.4" stroke-linejoin="round">1</text>
<text x="70.80" y="405.10" font-size="10.2" fill="#111" font-weight="bold" text-anchor="end"  stroke="#111" stroke-width="0.3" stroke-linejoin="round">EDNRB</text>
<text x="67.00" y="433.80" font-size="10.2" fill="#111" font-weight="bold" text-anchor="end"  stroke="#111" stroke-width="0.3" stroke-linejoin="round">Perk</text>
<text x="65.40" y="454.90" font-size="10.2" fill="#111" font-weight="bold" text-anchor="end"  stroke="#111" stroke-width="0.3" stroke-linejoin="round">erk</text>
<clipPath id="cD1"><rect x="74.2" y="379.6" width="101.49999999999999" height="39.799999999999955"/></clipPath>
<g clip-path="url(#cD1)">
<rect x="74.2" y="379.6" width="101.49999999999999" height="39.799999999999955" fill="#b2b2b2"/>
<rect x="95.5" y="377.6" width="2.6" height="43.799999999999955" fill="#dadada" filter="url(#b2)"/>
<rect x="119.4" y="377.6" width="3.0" height="43.799999999999955" fill="#dadada" filter="url(#b2)"/>
<rect x="144.3" y="377.6" width="3.2" height="43.799999999999955" fill="#dadada" filter="url(#b2)"/>
<rect x="74.00" y="382.00" width="21.50" height="36" rx="2.5" fill="#8e8e8e" opacity="0.5" filter="url(#b2)" transform="rotate(0 84.75 400.00)"/>
<rect x="99.00" y="382.00" width="20.50" height="36" rx="2.5" fill="#888" opacity="0.6" filter="url(#b2)" transform="rotate(0 109.25 400.00)"/>
<rect x="122.50" y="378.00" width="21.50" height="40" rx="2.5" fill="#666" opacity="0.8" filter="url(#b2)" transform="rotate(0 133.25 398.00)"/>
<rect x="148.00" y="378.00" width="28.00" height="40" rx="2.5" fill="#6c6c6c" opacity="0.75" filter="url(#b2)" transform="rotate(0 162.00 398.00)"/>
<rect x="74.50" y="380.80" width="20.30" height="2.0" rx="1.0" fill="#666" opacity="0.4" filter="url(#b1)" transform="rotate(0 84.65 381.80)"/>
<rect x="74.50" y="388.70" width="20.30" height="3.4" rx="1.7" fill="#444" opacity="0.6" filter="url(#b1)" transform="rotate(0 84.65 390.40)"/>
<ellipse cx="84.65" cy="404.00" rx="11.15" ry="3.70" fill="#1a1a1a" opacity="0.9" filter="url(#b2)" transform="rotate(0 84.65 404.00)"/>
<rect x="74.50" y="409.70" width="20.30" height="3.4" rx="1.7" fill="#444" opacity="0.65" filter="url(#b1)" transform="rotate(0 84.65 411.40)"/>
<rect x="99.20" y="380.80" width="20.00" height="2.0" rx="1.0" fill="#666" opacity="0.4" filter="url(#b1)" transform="rotate(0 109.20 381.80)"/>
<rect x="99.20" y="388.70" width="20.00" height="3.4" rx="1.7" fill="#3a3a3a" opacity="0.65" filter="url(#b1)" transform="rotate(0 109.20 390.40)"/>
<ellipse cx="109.20" cy="404.00" rx="11.00" ry="4.20" fill="#050505" opacity="0.98" filter="url(#b2)" transform="rotate(0 109.20 404.00)"/>
<rect x="99.70" y="401.60" width="19.00" height="4.6" rx="2.3" fill="#050505" opacity="0.9" filter="url(#b1)" transform="rotate(0 109.20 403.90)"/>
<rect x="99.20" y="409.90" width="20.00" height="3.4" rx="1.7" fill="#3a3a3a" opacity="0.65" filter="url(#b1)" transform="rotate(0 109.20 411.60)"/>
<rect x="122.80" y="380.10" width="20.80" height="2.6" rx="1.3" fill="#1a1a1a" opacity="0.85" filter="url(#b1)" transform="rotate(0 133.20 381.40)"/>
<rect x="122.20" y="387.50" width="21.20" height="6.2" rx="3.1" fill="#030303" opacity="1" filter="url(#b1)" transform="rotate(0 132.80 390.60)"/>
<ellipse cx="132.70" cy="404.70" rx="11.70" ry="8.10" fill="#020202" opacity="1" filter="url(#b1)" transform="rotate(0 132.70 404.70)"/>
<rect x="123.10" y="397.90" width="19.00" height="13.6" rx="4" fill="#020202" opacity="1" filter="url(#b1)" transform="rotate(0 132.60 404.70)"/>
<rect x="148.20" y="381.60" width="26.40" height="2.0" rx="1.0" fill="#333" opacity="0.55" filter="url(#b1)" transform="rotate(0 161.40 382.60)"/>
<rect x="148.60" y="389.00" width="25.40" height="5.0" rx="2.5" fill="#030303" opacity="1" filter="url(#b1)" transform="rotate(0 161.30 391.50)"/>
<ellipse cx="161.30" cy="405.00" rx="14.30" ry="7.00" fill="#020202" opacity="1" filter="url(#b1)" transform="rotate(0 161.30 405.00)"/>
<rect x="149.20" y="399.20" width="23.40" height="11.6" rx="4" fill="#020202" opacity="1" filter="url(#b1)" transform="rotate(0 160.90 405.00)"/>
</g>
<clipPath id="cD2"><rect x="72" y="424.5" width="102.30000000000001" height="16.69999999999999"/></clipPath>
<g clip-path="url(#cD2)">
<rect x="72" y="424.5" width="102.30000000000001" height="16.69999999999999" fill="#c4c4c4"/>
<rect x="72.60" y="427.60" width="24.60" height="5.4" rx="2.5" fill="#050505" opacity="1" filter="url(#b05)" transform="rotate(0 84.90 430.30)"/>
<rect x="72.60" y="432.90" width="23.80" height="5.4" rx="2.5" fill="#050505" opacity="1" filter="url(#b05)" transform="rotate(0 84.50 435.60)"/>
<rect x="72.60" y="430.00" width="22.90" height="6" rx="2.5" fill="#050505" opacity="1" filter="url(#b05)" transform="rotate(0 84.05 433.00)"/>
<rect x="77.60" y="429.55" width="18.40" height="1.1" rx="0.55" fill="#66e0e4" opacity="1" filter="url(#b05)" transform="rotate(0 86.80 430.10)"/>
<rect x="77.60" y="434.70" width="17.00" height="1.0" rx="0.5" fill="#66e0e4" opacity="0.95" filter="url(#b05)" transform="rotate(0 86.10 435.20)"/>
<rect x="99.40" y="428.00" width="23.20" height="5.0" rx="2.5" fill="#050505" opacity="1" filter="url(#b05)" transform="rotate(0 111.00 430.50)"/>
<rect x="99.40" y="433.70" width="21.60" height="3.6" rx="1.8" fill="#0a0a0a" opacity="0.97" filter="url(#b05)" transform="rotate(0 110.20 435.50)"/>
<rect x="99.40" y="431.50" width="20.60" height="3" rx="1.5" fill="#111" opacity="0.85" filter="url(#b05)" transform="rotate(0 109.70 433.00)"/>
<rect x="102.20" y="429.90" width="17.80" height="1.0" rx="0.5" fill="#66e0e4" opacity="0.9" filter="url(#b05)" transform="rotate(0 111.10 430.40)"/>
<rect x="125.60" y="430.15" width="19.70" height="2.3" rx="1.15" fill="#0a0a0a" opacity="0.95" filter="url(#b05)" transform="rotate(0 135.45 431.30)"/>
<rect x="125.60" y="435.20" width="13.40" height="2.2" rx="1.1" fill="#333" opacity="0.6" filter="url(#b1)" transform="rotate(0 132.30 436.30)"/>
<rect x="152.00" y="431.00" width="14.00" height="1.6" rx="0.8" fill="#888" opacity="0.3" filter="url(#b1)" transform="rotate(0 159.00 431.80)"/>
</g>
<clipPath id="cD3"><rect x="72" y="447.2" width="103.69999999999999" height="17.30000000000001"/></clipPath>
<g clip-path="url(#cD3)">
<rect x="72" y="447.2" width="103.69999999999999" height="17.30000000000001" fill="#c6c6c6"/>
<rect x="73.50" y="450.40" width="22.90" height="6.4" rx="3.1" fill="#050505" opacity="1" filter="url(#b05)" transform="rotate(0.6 84.95 453.60)"/>
<rect x="71.00" y="452.70" width="28.40" height="2.2" rx="1.1" fill="#050505" opacity="1" filter="url(#b05)" transform="rotate(0.6 85.20 453.80)"/>
<rect x="98.20" y="450.70" width="22.60" height="6.4" rx="3.1" fill="#050505" opacity="1" filter="url(#b05)" transform="rotate(0.6 109.50 453.90)"/>
<rect x="95.70" y="453.00" width="28.10" height="2.2" rx="1.1" fill="#050505" opacity="1" filter="url(#b05)" transform="rotate(0.6 109.75 454.10)"/>
<rect x="121.80" y="452.00" width="23.40" height="6.4" rx="3.1" fill="#050505" opacity="1" filter="url(#b05)" transform="rotate(0.6 133.50 455.20)"/>
<rect x="119.30" y="454.30" width="28.90" height="2.2" rx="1.1" fill="#050505" opacity="1" filter="url(#b05)" transform="rotate(0.6 133.75 455.40)"/>
<rect x="147.20" y="454.60" width="27.40" height="6.4" rx="3.1" fill="#050505" opacity="1" filter="url(#b05)" transform="rotate(0.6 160.90 457.80)"/>
<rect x="144.70" y="456.90" width="32.90" height="2.2" rx="1.1" fill="#050505" opacity="1" filter="url(#b05)" transform="rotate(0.6 161.15 458.00)"/>
</g>
<text x="188.40" y="360.20" font-size="16" fill="#0a0a0a" font-weight="bold" text-anchor="start"  stroke="#0a0a0a" stroke-width="0.55" stroke-linejoin="round">E</text>
<line x1="210.60" y1="378.90" x2="210.60" y2="452.70" stroke="#222" stroke-width="0.9" />
<line x1="210.20" y1="452.30" x2="284.80" y2="452.30" stroke="#222" stroke-width="0.9" />
<line x1="210.60" y1="378.90" x2="284.80" y2="378.90" stroke="#777" stroke-width="0.7" />
<line x1="284.80" y1="378.90" x2="284.80" y2="452.30" stroke="#777" stroke-width="0.7" />
<line x1="209.00" y1="452.30" x2="210.60" y2="452.30" stroke="#222" stroke-width="0.7" />
<text x="208.20" y="454.20" font-size="5.4" fill="#333" font-weight="normal" text-anchor="end"  stroke="#333" stroke-width="0.18" stroke-linejoin="round">0</text>
<line x1="209.00" y1="438.32" x2="210.60" y2="438.32" stroke="#222" stroke-width="0.7" />
<text x="208.20" y="440.22" font-size="5.4" fill="#333" font-weight="normal" text-anchor="end"  stroke="#333" stroke-width="0.18" stroke-linejoin="round">20</text>
<line x1="209.00" y1="424.34" x2="210.60" y2="424.34" stroke="#222" stroke-width="0.7" />
<text x="208.20" y="426.24" font-size="5.4" fill="#333" font-weight="normal" text-anchor="end"  stroke="#333" stroke-width="0.18" stroke-linejoin="round">40</text>
<line x1="209.00" y1="410.36" x2="210.60" y2="410.36" stroke="#222" stroke-width="0.7" />
<text x="208.20" y="412.26" font-size="5.4" fill="#333" font-weight="normal" text-anchor="end"  stroke="#333" stroke-width="0.18" stroke-linejoin="round">60</text>
<line x1="209.00" y1="396.38" x2="210.60" y2="396.38" stroke="#222" stroke-width="0.7" />
<text x="208.20" y="398.28" font-size="5.4" fill="#333" font-weight="normal" text-anchor="end"  stroke="#333" stroke-width="0.18" stroke-linejoin="round">80</text>
<line x1="209.00" y1="382.40" x2="210.60" y2="382.40" stroke="#222" stroke-width="0.7" />
<text x="208.20" y="384.30" font-size="5.4" fill="#333" font-weight="normal" text-anchor="end"  stroke="#333" stroke-width="0.18" stroke-linejoin="round">100</text>
<text x="210.60" y="459.50" font-size="5.4" fill="#333" font-weight="normal" text-anchor="middle"  stroke="#333" stroke-width="0.18" stroke-linejoin="round">1</text>
<text x="229.30" y="459.50" font-size="5.4" fill="#333" font-weight="normal" text-anchor="middle"  stroke="#333" stroke-width="0.18" stroke-linejoin="round">10</text>
<text x="248.00" y="459.50" font-size="5.4" fill="#333" font-weight="normal" text-anchor="middle"  stroke="#333" stroke-width="0.18" stroke-linejoin="round">100</text>
<text x="266.70" y="459.50" font-size="5.4" fill="#333" font-weight="normal" text-anchor="middle"  stroke="#333" stroke-width="0.18" stroke-linejoin="round">1,000</text>
<text x="285.40" y="459.50" font-size="5.4" fill="#333" font-weight="normal" text-anchor="middle"  stroke="#333" stroke-width="0.18" stroke-linejoin="round">10,000</text>
<polyline points="210.90,445.37 211.65,442.56 212.40,438.90 213.15,434.76 213.90,427.58 214.65,417.86 215.40,403.06 216.15,395.30 216.90,382.72 217.65,383.17 218.40,383.63 219.15,392.62 219.90,408.04 220.65,415.59 221.40,424.74 222.15,429.98 222.90,435.81 223.65,440.41 224.40,441.71 225.15,444.00 225.90,445.52 226.65,446.08 227.40,447.57 228.15,447.96 228.90,449.06 229.65,449.73 230.40,449.84 231.15,450.49 231.90,450.64 232.65,450.86 233.40,451.13 234.15,450.96 234.90,451.13 235.65,450.74 236.40,451.04 237.15,451.06 237.90,450.81 238.65,451.43 239.40,451.15 240.15,451.36 240.90,451.67 241.65,451.14 242.40,451.60 243.15,451.08 243.90,451.46 244.65,451.09 245.40,451.12 246.15,451.52 246.90,451.13 247.65,451.75 248.40,451.70 249.15,451.50 249.90,451.69 250.65,451.57 251.40,451.45 252.15,451.34 252.90,451.42 253.65,451.89 254.40,451.29 255.15,451.28 255.90,451.62 256.65,451.43 257.40,451.91 258.15,451.83 258.90,451.92 259.65,451.84 260.40,451.67 261.15,451.24 261.90,451.85 262.65,451.69 263.40,451.88 264.15,451.15 264.90,451.58 265.65,451.90 266.40,451.76 267.15,451.85 267.90,451.19 268.65,451.87 269.40,451.97 270.15,451.17 270.90,451.41 271.65,451.68 272.40,451.35 273.15,451.34 273.90,451.81 274.65,451.17 275.40,451.32 276.15,451.37 276.90,451.56 277.65,451.97 278.40,451.76 279.15,451.42 279.90,451.62 280.65,451.17 281.40,451.69 282.15,451.81 282.90,451.83 283.65,451.24" fill="none" stroke="#7c7c7c" stroke-width="1.3" stroke-linejoin="round" />
<polyline points="210.90,450.55 211.65,449.83 212.40,449.48 213.15,448.15 213.90,447.26 214.65,445.93 215.40,443.88 216.15,440.82 216.90,438.36 217.65,434.69 218.40,432.46 219.15,424.43 219.90,422.70 220.65,412.97 221.40,411.19 222.15,407.82 222.90,395.20 223.65,393.74 224.40,390.46 225.15,383.65 225.90,387.38 226.65,386.25 227.40,386.34 228.15,388.44 228.90,388.54 229.65,388.85 230.40,394.16 231.15,398.07 231.90,403.09 232.65,408.56 233.40,415.77 234.15,419.73 234.90,421.65 235.65,427.88 236.40,430.89 237.15,435.97 237.90,438.90 238.65,440.45 239.40,442.93 240.15,444.76 240.90,446.59 241.65,447.75 242.40,448.87 243.15,449.26 243.90,449.82 244.65,450.72 245.40,450.52 246.15,451.39 246.90,451.33 247.65,451.54 248.40,451.21 249.15,451.01 249.90,451.20 250.65,451.68 251.40,451.00 252.15,451.04 252.90,451.44 253.65,451.15 254.40,451.52 255.15,451.60 255.90,451.63 256.65,451.88 257.40,451.54 258.15,451.64 258.90,451.49 259.65,451.11 260.40,451.12 261.15,451.72 261.90,451.29 262.65,451.84 263.40,451.19 264.15,451.74 264.90,451.19 265.65,451.38 266.40,451.92 267.15,451.61 267.90,451.19 268.65,451.30 269.40,451.26 270.15,451.26 270.90,451.70 271.65,451.20 272.40,451.87 273.15,451.78 273.90,451.85 274.65,451.82 275.40,451.73 276.15,451.74 276.90,451.84 277.65,451.98 278.40,451.98 279.15,451.53 279.90,451.59 280.65,451.90 281.40,451.63 282.15,451.29 282.90,451.57 283.65,451.17" fill="none" stroke="#0f7a3a" stroke-width="1.8" stroke-linejoin="round" />
<polyline points="210.90,450.59 211.65,450.59 212.40,450.74 213.15,450.84 213.90,450.16 214.65,450.42 215.40,449.69 216.15,449.36 216.90,449.65 217.65,449.18 218.40,448.94 219.15,448.12 219.90,447.68 220.65,447.34 221.40,447.35 222.15,447.06 222.90,445.99 223.65,445.61 224.40,445.31 225.15,444.30 225.90,443.76 226.65,442.09 227.40,440.02 228.15,437.97 228.90,435.95 229.65,435.07 230.40,430.93 231.15,428.39 231.90,427.68 232.65,420.61 233.40,417.15 234.15,416.60 234.90,409.81 235.65,403.15 236.40,400.24 237.15,395.25 237.90,396.03 238.65,393.45 239.40,390.73 240.15,384.17 240.90,382.20 241.65,383.99 242.40,382.10 243.15,387.12 243.90,389.96 244.65,394.26 245.40,405.51 246.15,406.79 246.90,412.62 247.65,420.71 248.40,426.22 249.15,430.48 249.90,435.90 250.65,440.54 251.40,442.55 252.15,445.50 252.90,447.54 253.65,448.18 254.40,449.57 255.15,450.20 255.90,451.00 256.65,451.03 257.40,450.46 258.15,451.02 258.90,450.57 259.65,451.23 260.40,450.73 261.15,451.07 261.90,451.16 262.65,451.47 263.40,451.20 264.15,451.06 264.90,450.96 265.65,451.70 266.40,451.35 267.15,451.51 267.90,451.51 268.65,451.10 269.40,451.20 270.15,451.72 270.90,451.24 271.65,451.60 272.40,451.54 273.15,451.37 273.90,451.53 274.65,451.86 275.40,451.21 276.15,451.13 276.90,451.70 277.65,451.77 278.40,451.13 279.15,451.25 279.90,451.18 280.65,451.48 281.40,451.91 282.15,451.58 282.90,451.42 283.65,451.92" fill="none" stroke="#c41c2a" stroke-width="1.8" stroke-linejoin="round" />
<text x="217.50" y="375.20" font-size="8.9" fill="#16874a" font-weight="normal" text-anchor="start"  stroke="#16874a" stroke-width="0.18" stroke-linejoin="round">NA</text>
<text x="233.00" y="375.20" font-size="8.9" fill="#c8283c" font-weight="normal" text-anchor="start"  stroke="#c8283c" stroke-width="0.18" stroke-linejoin="round">+MEKi-973</text>
<text transform="translate(192.60,415.00) rotate(-90)" font-size="6.6" fill="#222" stroke="#222" stroke-width="0.18" font-weight="normal" text-anchor="middle">% of Max</text>
<text x="248.00" y="471.30" font-size="7" fill="#222" font-weight="bold" text-anchor="middle" >FL1-H</text>
<text x="47.80" y="525.60" font-size="16" fill="#0a0a0a" font-weight="bold" text-anchor="start"  stroke="#0a0a0a" stroke-width="0.55" stroke-linejoin="round">F</text>
<line x1="66.80" y1="541.00" x2="66.80" y2="625.10" stroke="#111" stroke-width="1.1" />
<line x1="66.80" y1="541.30" x2="71.20" y2="541.30" stroke="#111" stroke-width="0.9" />
<line x1="66.30" y1="624.60" x2="196.20" y2="624.60" stroke="#111" stroke-width="1.1" />
<line x1="66.80" y1="624.60" x2="71.20" y2="624.60" stroke="#111" stroke-width="0.9" />
<text x="63.20" y="627.50" font-size="8" fill="#222" font-weight="normal" text-anchor="end"  stroke="#222" stroke-width="0.18" stroke-linejoin="round">0</text>
<line x1="66.80" y1="608.16" x2="71.20" y2="608.16" stroke="#111" stroke-width="0.9" />
<text x="63.20" y="611.06" font-size="8" fill="#222" font-weight="normal" text-anchor="end"  stroke="#222" stroke-width="0.18" stroke-linejoin="round">1</text>
<line x1="66.80" y1="591.72" x2="71.20" y2="591.72" stroke="#111" stroke-width="0.9" />
<text x="63.20" y="594.62" font-size="8" fill="#222" font-weight="normal" text-anchor="end"  stroke="#222" stroke-width="0.18" stroke-linejoin="round">2</text>
<line x1="66.80" y1="575.28" x2="71.20" y2="575.28" stroke="#111" stroke-width="0.9" />
<text x="63.20" y="578.18" font-size="8" fill="#222" font-weight="normal" text-anchor="end"  stroke="#222" stroke-width="0.18" stroke-linejoin="round">3</text>
<line x1="66.80" y1="558.84" x2="71.20" y2="558.84" stroke="#111" stroke-width="0.9" />
<text x="63.20" y="561.74" font-size="8" fill="#222" font-weight="normal" text-anchor="end"  stroke="#222" stroke-width="0.18" stroke-linejoin="round">4</text>
<line x1="66.80" y1="542.40" x2="71.20" y2="542.40" stroke="#111" stroke-width="0.9" />
<text x="63.20" y="545.30" font-size="8" fill="#222" font-weight="normal" text-anchor="end"  stroke="#222" stroke-width="0.18" stroke-linejoin="round">5</text>
<text transform="translate(52.60,581.20) rotate(-90)" font-size="8.4" fill="#222" stroke="#222" stroke-width="0.18" font-weight="normal" text-anchor="middle">EDNRB/Hprt1 (ΔΔC<tspan font-size="5.4" dy="1.6">T</tspan><tspan dy="-1.6">)</tspan></text>
<line x1="75.50" y1="611.70" x2="75.50" y2="610.10" stroke="#111" stroke-width="0.8" />
<line x1="74.10" y1="610.10" x2="76.90" y2="610.10" stroke="#111" stroke-width="0.8" />
<rect x="73.70" y="611.70" width="3.6" height="12.90" fill="#5c5c5c" stroke="#111" stroke-width="0.9"/>
<line x1="82.30" y1="608.20" x2="82.30" y2="606.80" stroke="#111" stroke-width="0.8" />
<line x1="80.90" y1="606.80" x2="83.70" y2="606.80" stroke="#111" stroke-width="0.8" />
<rect x="80.50" y="608.20" width="3.6" height="16.40" fill="#5c5c5c" stroke="#111" stroke-width="0.9"/>
<line x1="89.20" y1="607.30" x2="89.20" y2="605.30" stroke="#111" stroke-width="0.8" />
<line x1="87.80" y1="605.30" x2="90.60" y2="605.30" stroke="#111" stroke-width="0.8" />
<rect x="87.40" y="607.30" width="3.6" height="17.30" fill="#5c5c5c" stroke="#111" stroke-width="0.9"/>
<line x1="96.00" y1="607.90" x2="96.00" y2="607.10" stroke="#111" stroke-width="0.8" />
<line x1="94.60" y1="607.10" x2="97.40" y2="607.10" stroke="#111" stroke-width="0.8" />
<rect x="94.20" y="607.90" width="3.6" height="16.70" fill="#5c5c5c" stroke="#111" stroke-width="0.9"/>
<line x1="103.00" y1="605.30" x2="103.00" y2="603.10" stroke="#111" stroke-width="0.8" />
<line x1="101.60" y1="603.10" x2="104.40" y2="603.10" stroke="#111" stroke-width="0.8" />
<rect x="101.20" y="605.30" width="3.6" height="19.30" fill="#5c5c5c" stroke="#111" stroke-width="0.9"/>
<line x1="109.90" y1="604.70" x2="109.90" y2="602.90" stroke="#111" stroke-width="0.8" />
<line x1="108.50" y1="602.90" x2="111.30" y2="602.90" stroke="#111" stroke-width="0.8" />
<rect x="108.10" y="604.70" width="3.6" height="19.90" fill="#5c5c5c" stroke="#111" stroke-width="0.9"/>
<line x1="123.00" y1="589.30" x2="123.00" y2="588.50" stroke="#111" stroke-width="0.8" />
<line x1="121.60" y1="588.50" x2="124.40" y2="588.50" stroke="#111" stroke-width="0.8" />
<rect x="121.20" y="589.30" width="3.6" height="35.30" fill="#5c5c5c" stroke="#111" stroke-width="0.9"/>
<line x1="129.90" y1="589.30" x2="129.90" y2="585.70" stroke="#111" stroke-width="0.8" />
<line x1="128.50" y1="585.70" x2="131.30" y2="585.70" stroke="#111" stroke-width="0.8" />
<rect x="128.10" y="589.30" width="3.6" height="35.30" fill="#5c5c5c" stroke="#111" stroke-width="0.9"/>
<line x1="136.60" y1="583.60" x2="136.60" y2="582.80" stroke="#111" stroke-width="0.8" />
<line x1="135.20" y1="582.80" x2="138.00" y2="582.80" stroke="#111" stroke-width="0.8" />
<rect x="134.80" y="583.60" width="3.6" height="41.00" fill="#5c5c5c" stroke="#111" stroke-width="0.9"/>
<line x1="143.40" y1="593.10" x2="143.40" y2="592.50" stroke="#111" stroke-width="0.8" />
<line x1="142.00" y1="592.50" x2="144.80" y2="592.50" stroke="#111" stroke-width="0.8" />
<rect x="141.60" y="593.10" width="3.6" height="31.50" fill="#5c5c5c" stroke="#111" stroke-width="0.9"/>
<line x1="150.10" y1="593.10" x2="150.10" y2="592.50" stroke="#111" stroke-width="0.8" />
<line x1="148.70" y1="592.50" x2="151.50" y2="592.50" stroke="#111" stroke-width="0.8" />
<rect x="148.30" y="593.10" width="3.6" height="31.50" fill="#5c5c5c" stroke="#111" stroke-width="0.9"/>
<line x1="164.50" y1="564.60" x2="164.50" y2="563.60" stroke="#111" stroke-width="0.8" />
<line x1="163.10" y1="563.60" x2="165.90" y2="563.60" stroke="#111" stroke-width="0.8" />
<rect x="162.70" y="564.60" width="3.6" height="60.00" fill="#5c5c5c" stroke="#111" stroke-width="0.9"/>
<line x1="171.40" y1="580.50" x2="171.40" y2="579.90" stroke="#111" stroke-width="0.8" />
<line x1="170.00" y1="579.90" x2="172.80" y2="579.90" stroke="#111" stroke-width="0.8" />
<rect x="169.60" y="580.50" width="3.6" height="44.10" fill="#5c5c5c" stroke="#111" stroke-width="0.9"/>
<line x1="178.30" y1="547.30" x2="178.30" y2="544.90" stroke="#111" stroke-width="0.8" />
<line x1="176.90" y1="544.90" x2="179.70" y2="544.90" stroke="#111" stroke-width="0.8" />
<rect x="176.50" y="547.30" width="3.6" height="77.30" fill="#5c5c5c" stroke="#111" stroke-width="0.9"/>
<line x1="185.30" y1="568.00" x2="185.30" y2="567.20" stroke="#111" stroke-width="0.8" />
<line x1="183.90" y1="567.20" x2="186.70" y2="567.20" stroke="#111" stroke-width="0.8" />
<rect x="183.50" y="568.00" width="3.6" height="56.60" fill="#5c5c5c" stroke="#111" stroke-width="0.9"/>
<line x1="192.20" y1="566.30" x2="192.20" y2="565.10" stroke="#111" stroke-width="0.8" />
<line x1="190.80" y1="565.10" x2="193.60" y2="565.10" stroke="#111" stroke-width="0.8" />
<rect x="190.40" y="566.30" width="3.6" height="58.30" fill="#5c5c5c" stroke="#111" stroke-width="0.9"/>
<text x="92.40" y="636.50" font-size="9.0" fill="#222" font-weight="normal" text-anchor="middle"  stroke="#222" stroke-width="0.18" stroke-linejoin="round">Vehicle</text>
<text x="137.00" y="636.50" font-size="9.0" fill="#222" font-weight="normal" text-anchor="middle"  stroke="#222" stroke-width="0.18" stroke-linejoin="round">5 MPK</text>
<text x="178.60" y="636.50" font-size="9.0" fill="#222" font-weight="normal" text-anchor="middle"  stroke="#222" stroke-width="0.18" stroke-linejoin="round">10 MPK</text>
</g>
<g filter="url(#soft)">
<text x="236.60" y="493.20" font-size="16" fill="#0a0a0a" font-weight="bold" text-anchor="start"  stroke="#0a0a0a" stroke-width="0.55" stroke-linejoin="round">G</text>
<line x1="279.80" y1="481.80" x2="279.80" y2="636.00" stroke="#111" stroke-width="1.3" />
<line x1="279.20" y1="635.40" x2="498.00" y2="635.40" stroke="#111" stroke-width="1.3" />
<line x1="279.80" y1="482.20" x2="282.40" y2="482.20" stroke="#111" stroke-width="0.9" />
<line x1="279.80" y1="635.40" x2="282.60" y2="635.40" stroke="#111" stroke-width="0.9" />
<line x1="279.80" y1="597.13" x2="282.60" y2="597.13" stroke="#111" stroke-width="0.9" />
<line x1="279.80" y1="558.87" x2="282.60" y2="558.87" stroke="#111" stroke-width="0.9" />
<line x1="279.80" y1="520.60" x2="282.60" y2="520.60" stroke="#111" stroke-width="0.9" />
<line x1="279.80" y1="635.40" x2="279.80" y2="633.00" stroke="#111" stroke-width="0.9" />
<line x1="289.30" y1="635.40" x2="289.30" y2="634.20" stroke="#111" stroke-width="0.6" />
<line x1="298.80" y1="635.40" x2="298.80" y2="634.20" stroke="#111" stroke-width="0.6" />
<line x1="308.30" y1="635.40" x2="308.30" y2="634.20" stroke="#111" stroke-width="0.6" />
<line x1="317.80" y1="635.40" x2="317.80" y2="634.20" stroke="#111" stroke-width="0.6" />
<line x1="327.30" y1="635.40" x2="327.30" y2="633.00" stroke="#111" stroke-width="0.9" />
<line x1="336.80" y1="635.40" x2="336.80" y2="634.20" stroke="#111" stroke-width="0.6" />
<line x1="346.30" y1="635.40" x2="346.30" y2="634.20" stroke="#111" stroke-width="0.6" />
<line x1="355.80" y1="635.40" x2="355.80" y2="634.20" stroke="#111" stroke-width="0.6" />
<line x1="365.30" y1="635.40" x2="365.30" y2="634.20" stroke="#111" stroke-width="0.6" />
<line x1="374.80" y1="635.40" x2="374.80" y2="633.00" stroke="#111" stroke-width="0.9" />
<line x1="384.30" y1="635.40" x2="384.30" y2="634.20" stroke="#111" stroke-width="0.6" />
<line x1="393.80" y1="635.40" x2="393.80" y2="634.20" stroke="#111" stroke-width="0.6" />
<line x1="403.30" y1="635.40" x2="403.30" y2="634.20" stroke="#111" stroke-width="0.6" />
<line x1="412.80" y1="635.40" x2="412.80" y2="634.20" stroke="#111" stroke-width="0.6" />
<line x1="422.30" y1="635.40" x2="422.30" y2="633.00" stroke="#111" stroke-width="0.9" />
<line x1="431.80" y1="635.40" x2="431.80" y2="634.20" stroke="#111" stroke-width="0.6" />
<line x1="441.30" y1="635.40" x2="441.30" y2="634.20" stroke="#111" stroke-width="0.6" />
<line x1="450.80" y1="635.40" x2="450.80" y2="634.20" stroke="#111" stroke-width="0.6" />
<line x1="460.30" y1="635.40" x2="460.30" y2="634.20" stroke="#111" stroke-width="0.6" />
<line x1="469.80" y1="635.40" x2="469.80" y2="633.00" stroke="#111" stroke-width="0.9" />
<line x1="479.30" y1="635.40" x2="479.30" y2="634.20" stroke="#111" stroke-width="0.6" />
<line x1="488.80" y1="635.40" x2="488.80" y2="634.20" stroke="#111" stroke-width="0.6" />
<text x="276.80" y="524.00" font-size="8.6" fill="#222" font-weight="normal" text-anchor="end"  stroke="#222" stroke-width="0.18" stroke-linejoin="round">1,500</text>
<text x="276.80" y="562.27" font-size="8.6" fill="#222" font-weight="normal" text-anchor="end"  stroke="#222" stroke-width="0.18" stroke-linejoin="round">1,000</text>
<text x="276.80" y="600.53" font-size="8.6" fill="#222" font-weight="normal" text-anchor="end"  stroke="#222" stroke-width="0.18" stroke-linejoin="round">500</text>
<text x="276.80" y="638.60" font-size="8.6" fill="#222" font-weight="normal" text-anchor="end"  stroke="#222" stroke-width="0.18" stroke-linejoin="round">0</text>
<text x="279.80" y="647.20" font-size="8.4" fill="#222" font-weight="normal" text-anchor="middle"  stroke="#222" stroke-width="0.18" stroke-linejoin="round">0</text>
<text x="327.30" y="647.20" font-size="8.4" fill="#222" font-weight="normal" text-anchor="middle"  stroke="#222" stroke-width="0.18" stroke-linejoin="round">5</text>
<text x="374.80" y="647.20" font-size="8.4" fill="#222" font-weight="normal" text-anchor="middle"  stroke="#222" stroke-width="0.18" stroke-linejoin="round">10</text>
<text x="422.30" y="647.20" font-size="8.4" fill="#222" font-weight="normal" text-anchor="middle"  stroke="#222" stroke-width="0.18" stroke-linejoin="round">15</text>
<text x="469.80" y="647.20" font-size="8.4" fill="#222" font-weight="normal" text-anchor="middle"  stroke="#222" stroke-width="0.18" stroke-linejoin="round">20</text>
<text x="484.50" y="647.60" font-size="9.7" fill="#222" font-weight="normal" text-anchor="start"  stroke="#222" stroke-width="0.18" stroke-linejoin="round">day</text>
<text transform="translate(244.90,566.30) rotate(-90)" font-size="10.3" fill="#222" stroke="#222" stroke-width="0.18" font-weight="normal" text-anchor="middle">Tumor volume (mm<tspan font-size="6.4" dy="-3.2">3</tspan><tspan dy="3.2">)</tspan></text>
<line x1="301.90" y1="482.00" x2="301.90" y2="542.30" stroke="#111" stroke-width="1.1" />
<line x1="301.40" y1="541.80" x2="392.00" y2="541.80" stroke="#111" stroke-width="1.1" />
<line x1="301.90" y1="527.03" x2="303.90" y2="527.03" stroke="#111" stroke-width="0.8" />
<line x1="301.90" y1="512.27" x2="303.90" y2="512.27" stroke="#111" stroke-width="0.8" />
<line x1="301.90" y1="497.50" x2="303.90" y2="497.50" stroke="#111" stroke-width="0.8" />
<line x1="321.75" y1="541.80" x2="321.75" y2="540.00" stroke="#111" stroke-width="0.8" />
<line x1="341.60" y1="541.80" x2="341.60" y2="540.00" stroke="#111" stroke-width="0.8" />
<line x1="361.45" y1="541.80" x2="361.45" y2="540.00" stroke="#111" stroke-width="0.8" />
<line x1="381.30" y1="541.80" x2="381.30" y2="540.00" stroke="#111" stroke-width="0.8" />
<text x="299.60" y="500.00" font-size="6.9" fill="#222" font-weight="normal" text-anchor="end"  stroke="#222" stroke-width="0.2" stroke-linejoin="round">1,500</text>
<text x="299.60" y="514.77" font-size="6.9" fill="#222" font-weight="normal" text-anchor="end"  stroke="#222" stroke-width="0.2" stroke-linejoin="round">1,000</text>
<text x="299.60" y="529.53" font-size="6.9" fill="#222" font-weight="normal" text-anchor="end"  stroke="#222" stroke-width="0.2" stroke-linejoin="round">500</text>
<text x="299.60" y="544.30" font-size="6.9" fill="#222" font-weight="normal" text-anchor="end"  stroke="#222" stroke-width="0.2" stroke-linejoin="round">0</text>
<text x="301.30" y="551.40" font-size="6.9" fill="#222" font-weight="normal" text-anchor="middle"  stroke="#222" stroke-width="0.2" stroke-linejoin="round">0</text>
<text x="321.15" y="551.40" font-size="6.9" fill="#222" font-weight="normal" text-anchor="middle"  stroke="#222" stroke-width="0.2" stroke-linejoin="round">5</text>
<text x="341.00" y="551.40" font-size="6.9" fill="#222" font-weight="normal" text-anchor="middle"  stroke="#222" stroke-width="0.2" stroke-linejoin="round">10</text>
<text x="360.85" y="551.40" font-size="6.9" fill="#222" font-weight="normal" text-anchor="middle"  stroke="#222" stroke-width="0.2" stroke-linejoin="round">15</text>
<text x="380.70" y="551.40" font-size="6.9" fill="#222" font-weight="normal" text-anchor="middle"  stroke="#222" stroke-width="0.2" stroke-linejoin="round">20</text>
<line x1="341.60" y1="512.00" x2="341.60" y2="521.00" stroke="#b0aca6" stroke-width="0.7" />
<line x1="340.60" y1="512.00" x2="342.60" y2="512.00" stroke="#b0aca6" stroke-width="0.7" />
<line x1="340.60" y1="521.00" x2="342.60" y2="521.00" stroke="#b0aca6" stroke-width="0.7" />
<line x1="353.50" y1="500.00" x2="353.50" y2="513.00" stroke="#b0aca6" stroke-width="0.7" />
<line x1="352.50" y1="500.00" x2="354.50" y2="500.00" stroke="#b0aca6" stroke-width="0.7" />
<line x1="352.50" y1="513.00" x2="354.50" y2="513.00" stroke="#b0aca6" stroke-width="0.7" />
<polyline points="301.90,531.60 313.80,528.80 325.70,526.00 341.60,516.50 353.50,507.00 362.50,500.00" fill="none" stroke="#b0aca6" stroke-width="1.2" stroke-linejoin="round" />
<circle cx="301.90" cy="531.60" r="0.8" fill="#b0aca6"/>
<circle cx="313.80" cy="528.80" r="0.8" fill="#b0aca6"/>
<circle cx="325.70" cy="526.00" r="0.8" fill="#b0aca6"/>
<circle cx="341.60" cy="516.50" r="0.8" fill="#b0aca6"/>
<circle cx="353.50" cy="507.00" r="0.8" fill="#b0aca6"/>
<circle cx="362.50" cy="500.00" r="0.8" fill="#b0aca6"/>
<line x1="353.50" y1="496.00" x2="353.50" y2="515.00" stroke="#9a8850" stroke-width="1.0" />
<line x1="352.50" y1="496.00" x2="354.50" y2="496.00" stroke="#9a8850" stroke-width="1.0" />
<line x1="352.50" y1="515.00" x2="354.50" y2="515.00" stroke="#9a8850" stroke-width="1.0" />
<line x1="365.50" y1="494.00" x2="365.50" y2="512.50" stroke="#9a8850" stroke-width="1.0" />
<line x1="364.50" y1="494.00" x2="366.50" y2="494.00" stroke="#9a8850" stroke-width="1.0" />
<line x1="364.50" y1="512.50" x2="366.50" y2="512.50" stroke="#9a8850" stroke-width="1.0" />
<polyline points="301.90,531.60 313.80,529.20 325.70,526.60 341.60,520.00 347.50,512.50 353.50,506.00 359.50,505.00 365.50,503.80" fill="none" stroke="#9a8850" stroke-width="1.4" stroke-linejoin="round" />
<circle cx="301.90" cy="531.60" r="1.0" fill="#9a8850"/>
<circle cx="313.80" cy="529.20" r="1.0" fill="#9a8850"/>
<circle cx="325.70" cy="526.60" r="1.0" fill="#9a8850"/>
<circle cx="341.60" cy="520.00" r="1.0" fill="#9a8850"/>
<circle cx="347.50" cy="512.50" r="1.0" fill="#9a8850"/>
<circle cx="353.50" cy="506.00" r="1.0" fill="#9a8850"/>
<circle cx="359.50" cy="505.00" r="1.0" fill="#9a8850"/>
<circle cx="365.50" cy="503.80" r="1.0" fill="#9a8850"/>
<line x1="341.60" y1="518.50" x2="341.60" y2="523.50" stroke="#24603a" stroke-width="1.0" />
<line x1="340.60" y1="518.50" x2="342.60" y2="518.50" stroke="#24603a" stroke-width="1.0" />
<line x1="340.60" y1="523.50" x2="342.60" y2="523.50" stroke="#24603a" stroke-width="1.0" />
<line x1="353.50" y1="511.00" x2="353.50" y2="518.00" stroke="#24603a" stroke-width="1.0" />
<line x1="352.50" y1="511.00" x2="354.50" y2="511.00" stroke="#24603a" stroke-width="1.0" />
<line x1="352.50" y1="518.00" x2="354.50" y2="518.00" stroke="#24603a" stroke-width="1.0" />
<line x1="365.50" y1="506.00" x2="365.50" y2="514.00" stroke="#24603a" stroke-width="1.0" />
<line x1="364.50" y1="506.00" x2="366.50" y2="506.00" stroke="#24603a" stroke-width="1.0" />
<line x1="364.50" y1="514.00" x2="366.50" y2="514.00" stroke="#24603a" stroke-width="1.0" />
<line x1="381.30" y1="496.00" x2="381.30" y2="504.00" stroke="#24603a" stroke-width="1.0" />
<line x1="380.30" y1="496.00" x2="382.30" y2="496.00" stroke="#24603a" stroke-width="1.0" />
<line x1="380.30" y1="504.00" x2="382.30" y2="504.00" stroke="#24603a" stroke-width="1.0" />
<polyline points="301.90,531.60 313.80,529.60 325.70,527.00 341.60,521.00 347.50,517.60 353.50,514.50 365.50,510.00 381.30,500.00" fill="none" stroke="#24603a" stroke-width="1.5" stroke-linejoin="round" />
<circle cx="301.90" cy="531.60" r="1.1" fill="#24603a"/>
<circle cx="313.80" cy="529.60" r="1.1" fill="#24603a"/>
<circle cx="325.70" cy="527.00" r="1.1" fill="#24603a"/>
<circle cx="341.60" cy="521.00" r="1.1" fill="#24603a"/>
<circle cx="347.50" cy="517.60" r="1.1" fill="#24603a"/>
<circle cx="353.50" cy="514.50" r="1.1" fill="#24603a"/>
<circle cx="365.50" cy="510.00" r="1.1" fill="#24603a"/>
<circle cx="381.30" cy="500.00" r="1.1" fill="#24603a"/>
<text x="334.20" y="494.20" font-size="8.9" fill="#85858a" font-weight="bold" text-anchor="start"  stroke="#85858a" stroke-width="0.25" stroke-linejoin="round">Vehicle</text>
<text x="369.20" y="489.60" font-size="8.7" fill="#96854e" font-weight="bold" text-anchor="start"  stroke="#96854e" stroke-width="0.25" stroke-linejoin="round">ADC-con</text>
<text x="382.40" y="498.90" font-size="8.7" fill="#1c6636" font-weight="bold" text-anchor="start"  stroke="#1c6636" stroke-width="0.25" stroke-linejoin="round">MEKi+ADC-con</text>
<line x1="375.20" y1="492.20" x2="370.00" y2="497.60" stroke="#9a8850" stroke-width="2.3" />
<path d="M366.9,500.9 L367.5,494.6 L370.0,496.6 L374.0,499.0 Z" fill="#9a8850" stroke="#9a8850" stroke-width="0.6" stroke-linejoin="round"/>
<line x1="336.80" y1="584.00" x2="336.80" y2="592.50" stroke="#bcc4d0" stroke-width="1.0" />
<line x1="335.20" y1="584.00" x2="338.40" y2="584.00" stroke="#bcc4d0" stroke-width="1.0" />
<line x1="335.20" y1="592.50" x2="338.40" y2="592.50" stroke="#bcc4d0" stroke-width="1.0" />
<line x1="374.80" y1="558.00" x2="374.80" y2="572.00" stroke="#bcc4d0" stroke-width="1.0" />
<line x1="373.20" y1="558.00" x2="376.40" y2="558.00" stroke="#bcc4d0" stroke-width="1.0" />
<line x1="373.20" y1="572.00" x2="376.40" y2="572.00" stroke="#bcc4d0" stroke-width="1.0" />
<line x1="403.30" y1="536.00" x2="403.30" y2="560.00" stroke="#bcc4d0" stroke-width="1.0" />
<line x1="401.70" y1="536.00" x2="404.90" y2="536.00" stroke="#bcc4d0" stroke-width="1.0" />
<line x1="401.70" y1="560.00" x2="404.90" y2="560.00" stroke="#bcc4d0" stroke-width="1.0" />
<line x1="432.00" y1="508.00" x2="432.00" y2="539.00" stroke="#bcc4d0" stroke-width="1.0" />
<line x1="430.40" y1="508.00" x2="433.60" y2="508.00" stroke="#bcc4d0" stroke-width="1.0" />
<line x1="430.40" y1="539.00" x2="433.60" y2="539.00" stroke="#bcc4d0" stroke-width="1.0" />
<polyline points="279.80,608.60 308.30,600.00 336.80,588.80 374.80,565.00 403.30,549.00 432.00,523.80" fill="none" stroke="#bcc4d0" stroke-width="1.8" stroke-linejoin="round" />
<circle cx="279.80" cy="608.60" r="1.8" fill="#bcc4d0"/>
<circle cx="308.30" cy="600.00" r="1.8" fill="#bcc4d0"/>
<circle cx="336.80" cy="588.80" r="1.8" fill="#bcc4d0"/>
<circle cx="374.80" cy="565.00" r="1.8" fill="#bcc4d0"/>
<circle cx="403.30" cy="549.00" r="1.8" fill="#bcc4d0"/>
<circle cx="432.00" cy="523.80" r="1.8" fill="#bcc4d0"/>
<line x1="336.80" y1="589.00" x2="336.80" y2="597.00" stroke="#2a3c9c" stroke-width="1.2" />
<line x1="335.10" y1="589.00" x2="338.50" y2="589.00" stroke="#2a3c9c" stroke-width="1.2" />
<line x1="335.10" y1="597.00" x2="338.50" y2="597.00" stroke="#2a3c9c" stroke-width="1.2" />
<line x1="374.80" y1="564.00" x2="374.80" y2="577.50" stroke="#2a3c9c" stroke-width="1.2" />
<line x1="373.10" y1="564.00" x2="376.50" y2="564.00" stroke="#2a3c9c" stroke-width="1.2" />
<line x1="373.10" y1="577.50" x2="376.50" y2="577.50" stroke="#2a3c9c" stroke-width="1.2" />
<line x1="403.30" y1="538.80" x2="403.30" y2="560.00" stroke="#2a3c9c" stroke-width="1.2" />
<line x1="401.60" y1="538.80" x2="405.00" y2="538.80" stroke="#2a3c9c" stroke-width="1.2" />
<line x1="401.60" y1="560.00" x2="405.00" y2="560.00" stroke="#2a3c9c" stroke-width="1.2" />
<line x1="432.00" y1="523.80" x2="432.00" y2="542.50" stroke="#2a3c9c" stroke-width="1.2" />
<line x1="430.30" y1="523.80" x2="433.70" y2="523.80" stroke="#2a3c9c" stroke-width="1.2" />
<line x1="430.30" y1="542.50" x2="433.70" y2="542.50" stroke="#2a3c9c" stroke-width="1.2" />
<line x1="469.80" y1="500.00" x2="469.80" y2="526.00" stroke="#2a3c9c" stroke-width="1.2" />
<line x1="468.10" y1="500.00" x2="471.50" y2="500.00" stroke="#2a3c9c" stroke-width="1.2" />
<line x1="468.10" y1="526.00" x2="471.50" y2="526.00" stroke="#2a3c9c" stroke-width="1.2" />
<polyline points="279.80,608.60 308.30,602.00 336.80,593.00 374.80,571.00 403.30,549.20 432.00,532.50 455.00,521.30 469.80,513.00" fill="none" stroke="#2a3c9c" stroke-width="2.1" stroke-linejoin="round" />
<circle cx="279.80" cy="608.60" r="2.2" fill="#2a3c9c"/>
<circle cx="308.30" cy="602.00" r="2.2" fill="#2a3c9c"/>
<circle cx="336.80" cy="593.00" r="2.2" fill="#2a3c9c"/>
<circle cx="374.80" cy="571.00" r="2.2" fill="#2a3c9c"/>
<circle cx="403.30" cy="549.20" r="2.2" fill="#2a3c9c"/>
<circle cx="432.00" cy="532.50" r="2.2" fill="#2a3c9c"/>
<line x1="454.40" y1="519.10" x2="455.60" y2="523.50" stroke="#2a3c9c" stroke-width="1.2" />
<circle cx="469.80" cy="513.00" r="2.2" fill="#2a3c9c"/>
<line x1="308.30" y1="598.50" x2="308.30" y2="603.50" stroke="#d0202e" stroke-width="1.2" />
<line x1="306.60" y1="598.50" x2="310.00" y2="598.50" stroke="#d0202e" stroke-width="1.2" />
<line x1="306.60" y1="603.50" x2="310.00" y2="603.50" stroke="#d0202e" stroke-width="1.2" />
<line x1="336.80" y1="602.50" x2="336.80" y2="608.50" stroke="#d0202e" stroke-width="1.2" />
<line x1="335.10" y1="602.50" x2="338.50" y2="602.50" stroke="#d0202e" stroke-width="1.2" />
<line x1="335.10" y1="608.50" x2="338.50" y2="608.50" stroke="#d0202e" stroke-width="1.2" />
<line x1="374.80" y1="593.00" x2="374.80" y2="604.00" stroke="#d0202e" stroke-width="1.2" />
<line x1="373.10" y1="593.00" x2="376.50" y2="593.00" stroke="#d0202e" stroke-width="1.2" />
<line x1="373.10" y1="604.00" x2="376.50" y2="604.00" stroke="#d0202e" stroke-width="1.2" />
<line x1="403.30" y1="570.50" x2="403.30" y2="586.00" stroke="#d0202e" stroke-width="1.2" />
<line x1="401.60" y1="570.50" x2="405.00" y2="570.50" stroke="#d0202e" stroke-width="1.2" />
<line x1="401.60" y1="586.00" x2="405.00" y2="586.00" stroke="#d0202e" stroke-width="1.2" />
<line x1="432.00" y1="538.80" x2="432.00" y2="562.50" stroke="#d0202e" stroke-width="1.2" />
<line x1="430.30" y1="538.80" x2="433.70" y2="538.80" stroke="#d0202e" stroke-width="1.2" />
<line x1="430.30" y1="562.50" x2="433.70" y2="562.50" stroke="#d0202e" stroke-width="1.2" />
<line x1="469.80" y1="490.00" x2="469.80" y2="526.00" stroke="#d0202e" stroke-width="1.2" />
<line x1="468.10" y1="490.00" x2="471.50" y2="490.00" stroke="#d0202e" stroke-width="1.2" />
<line x1="468.10" y1="526.00" x2="471.50" y2="526.00" stroke="#d0202e" stroke-width="1.2" />
<polyline points="279.80,608.60 308.30,601.00 336.80,605.50 374.80,598.80 403.30,578.00 432.00,550.50 469.80,506.30" fill="none" stroke="#d0202e" stroke-width="1.9" stroke-linejoin="round" />
<circle cx="279.80" cy="608.60" r="2.2" fill="#d0202e"/>
<circle cx="308.30" cy="601.00" r="2.2" fill="#d0202e"/>
<circle cx="336.80" cy="605.50" r="2.2" fill="#d0202e"/>
<circle cx="374.80" cy="598.80" r="2.2" fill="#d0202e"/>
<circle cx="403.30" cy="578.00" r="2.2" fill="#d0202e"/>
<circle cx="432.00" cy="550.50" r="2.2" fill="#d0202e"/>
<circle cx="469.80" cy="506.30" r="2.2" fill="#d0202e"/>
<line x1="374.80" y1="610.00" x2="374.80" y2="619.50" stroke="#0a0a0a" stroke-width="1.3" />
<line x1="373.00" y1="610.00" x2="376.60" y2="610.00" stroke="#0a0a0a" stroke-width="1.3" />
<line x1="373.00" y1="619.50" x2="376.60" y2="619.50" stroke="#0a0a0a" stroke-width="1.3" />
<line x1="403.30" y1="603.80" x2="403.30" y2="617.50" stroke="#0a0a0a" stroke-width="1.3" />
<line x1="401.50" y1="603.80" x2="405.10" y2="603.80" stroke="#0a0a0a" stroke-width="1.3" />
<line x1="401.50" y1="617.50" x2="405.10" y2="617.50" stroke="#0a0a0a" stroke-width="1.3" />
<line x1="432.00" y1="590.00" x2="432.00" y2="608.80" stroke="#0a0a0a" stroke-width="1.3" />
<line x1="430.20" y1="590.00" x2="433.80" y2="590.00" stroke="#0a0a0a" stroke-width="1.3" />
<line x1="430.20" y1="608.80" x2="433.80" y2="608.80" stroke="#0a0a0a" stroke-width="1.3" />
<line x1="469.80" y1="572.50" x2="469.80" y2="597.00" stroke="#0a0a0a" stroke-width="1.3" />
<line x1="468.00" y1="572.50" x2="471.60" y2="572.50" stroke="#0a0a0a" stroke-width="1.3" />
<line x1="468.00" y1="597.00" x2="471.60" y2="597.00" stroke="#0a0a0a" stroke-width="1.3" />
<polyline points="279.80,608.60 308.30,604.50 336.80,608.00 374.80,614.50 403.30,611.00 432.00,599.50 469.80,584.50" fill="none" stroke="#0a0a0a" stroke-width="1.9" stroke-linejoin="round" />
<rect x="277.40" y="606.20" width="4.8" height="4.8" fill="#0a0a0a"/>
<rect x="305.90" y="602.10" width="4.8" height="4.8" fill="#0a0a0a"/>
<rect x="334.40" y="605.60" width="4.8" height="4.8" fill="#0a0a0a"/>
<rect x="372.40" y="612.10" width="4.8" height="4.8" fill="#0a0a0a"/>
<rect x="400.90" y="608.60" width="4.8" height="4.8" fill="#0a0a0a"/>
<rect x="429.60" y="597.10" width="4.8" height="4.8" fill="#0a0a0a"/>
<rect x="467.40" y="582.10" width="4.8" height="4.8" fill="#0a0a0a"/>
<text x="396.80" y="525.20" font-size="9.0" fill="#746c40" font-weight="bold" text-anchor="start"  stroke="#746c40" stroke-width="0.25" stroke-linejoin="round">Vehicle</text>
<text x="478.00" y="518.20" font-size="8.8" fill="#44549a" font-weight="normal" text-anchor="start"  stroke="#44549a" stroke-width="0.18" stroke-linejoin="round">MEKi</text>
<text x="445.60" y="543.20" font-size="8.7" fill="#c62c3c" font-weight="normal" text-anchor="start"  stroke="#c62c3c" stroke-width="0.18" stroke-linejoin="round">ADC</text>
<text x="477.00" y="580.60" font-size="8.7" fill="#111" font-weight="normal" text-anchor="start"  stroke="#111" stroke-width="0.18" stroke-linejoin="round">ADC</text>
<text x="488.00" y="587.40" font-size="7.5" fill="#111" font-weight="bold" text-anchor="middle" >+</text>
<text x="477.00" y="595.60" font-size="8.7" fill="#111" font-weight="normal" text-anchor="start"  stroke="#111" stroke-width="0.18" stroke-linejoin="round">MEKi</text>
<text x="224.50" y="653.80" font-size="10.9" fill="#44549a" font-weight="normal" text-anchor="start"  stroke="#44549a" stroke-width="0.18" stroke-linejoin="round">MEKi (QD)</text>
<line x1="285.00" y1="650.40" x2="480.60" y2="650.40" stroke="#2a3c9c" stroke-width="1.9" />
<text x="219.80" y="668.10" font-size="10.7" fill="#c62c3c" font-weight="normal" text-anchor="start"  stroke="#c62c3c" stroke-width="0.18" stroke-linejoin="round">EDNRB ADC</text>
<path d="M289.20,658.60 L293.60,665.30 L292.60,666.40 L290.40,665.00 L290.20,667.40 L288.20,667.40 L288.00,665.00 L285.80,666.40 L284.80,665.30 Z" fill="#d4141e" stroke="#d4141e" stroke-width="0.5" stroke-linejoin="round"/>
</g>
</svg>
</body></html>
